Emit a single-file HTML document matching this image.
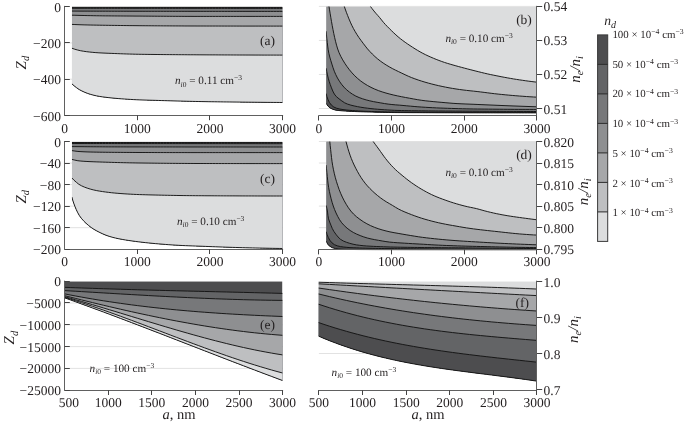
<!DOCTYPE html>
<html><head><meta charset="utf-8"><title>Figure</title>
<style>
html,body{margin:0;padding:0;background:#fff;}
svg{display:block;}
svg text{text-rendering:geometricPrecision;font-family:"Liberation Serif","Times New Roman",serif;fill:#231f20;}
</style></head><body>
<svg width="685" height="424" viewBox="0 0 685 424">
<rect width="685" height="424" fill="#fff"/>
<line x1="64.6" y1="42.96666666666667" x2="282.6" y2="42.96666666666667" stroke="#dadada" stroke-width="0.8"/>
<line x1="64.6" y1="79.23333333333333" x2="282.6" y2="79.23333333333333" stroke="#dadada" stroke-width="0.8"/>
<line x1="318.9" y1="6.409999999999897" x2="537.0" y2="6.409999999999897" stroke="#dadada" stroke-width="0.8"/>
<line x1="318.9" y1="40.43999999999994" x2="537.0" y2="40.43999999999994" stroke="#dadada" stroke-width="0.8"/>
<line x1="318.9" y1="74.46999999999997" x2="537.0" y2="74.46999999999997" stroke="#dadada" stroke-width="0.8"/>
<line x1="318.9" y1="108.5" x2="537.0" y2="108.5" stroke="#dadada" stroke-width="0.8"/>
<line x1="64.6" y1="163.04" x2="282.6" y2="163.04" stroke="#dadada" stroke-width="0.8"/>
<line x1="64.6" y1="184.57999999999998" x2="282.6" y2="184.57999999999998" stroke="#dadada" stroke-width="0.8"/>
<line x1="64.6" y1="206.12" x2="282.6" y2="206.12" stroke="#dadada" stroke-width="0.8"/>
<line x1="64.6" y1="227.66" x2="282.6" y2="227.66" stroke="#dadada" stroke-width="0.8"/>
<line x1="318.9" y1="141.5" x2="537.0" y2="141.5" stroke="#dadada" stroke-width="0.8"/>
<line x1="318.9" y1="163.04000000000002" x2="537.0" y2="163.04000000000002" stroke="#dadada" stroke-width="0.8"/>
<line x1="318.9" y1="184.57999999999956" x2="537.0" y2="184.57999999999956" stroke="#dadada" stroke-width="0.8"/>
<line x1="318.9" y1="206.11999999999955" x2="537.0" y2="206.11999999999955" stroke="#dadada" stroke-width="0.8"/>
<line x1="318.9" y1="227.65999999999957" x2="537.0" y2="227.65999999999957" stroke="#dadada" stroke-width="0.8"/>
<line x1="64.6" y1="303.0" x2="282.6" y2="303.0" stroke="#dadada" stroke-width="0.8"/>
<line x1="64.6" y1="324.8" x2="282.6" y2="324.8" stroke="#dadada" stroke-width="0.8"/>
<line x1="64.6" y1="346.6" x2="282.6" y2="346.6" stroke="#dadada" stroke-width="0.8"/>
<line x1="64.6" y1="368.4" x2="282.6" y2="368.4" stroke="#dadada" stroke-width="0.8"/>
<line x1="318.9" y1="317.5" x2="537.0" y2="317.5" stroke="#dadada" stroke-width="0.8"/>
<line x1="318.9" y1="353.5" x2="537.0" y2="353.5" stroke="#dadada" stroke-width="0.8"/>
<clipPath id="c1"><path d="M71.87,6.40 L282.60,6.40 L282.60,102.50 L279.50,102.48 L276.39,102.45 L273.29,102.43 L270.19,102.40 L267.08,102.38 L263.98,102.35 L260.88,102.32 L257.77,102.29 L254.67,102.26 L251.57,102.23 L248.46,102.19 L245.36,102.16 L242.26,102.13 L239.15,102.09 L236.05,102.06 L232.95,102.02 L229.84,101.98 L226.74,101.95 L223.64,101.91 L220.53,101.87 L217.43,101.82 L214.33,101.78 L211.23,101.74 L208.12,101.69 L205.02,101.64 L201.92,101.59 L198.81,101.53 L195.71,101.48 L192.61,101.41 L189.51,101.34 L186.40,101.26 L183.30,101.18 L180.20,101.09 L177.10,101.01 L173.99,100.91 L170.89,100.82 L167.79,100.73 L164.69,100.64 L161.59,100.55 L158.48,100.46 L155.38,100.37 L152.28,100.29 L149.18,100.21 L146.07,100.11 L142.97,100.01 L139.87,99.89 L136.77,99.76 L133.67,99.60 L130.57,99.43 L127.47,99.24 L124.38,99.02 L121.28,98.80 L118.19,98.56 L115.09,98.29 L112.00,98.00 L108.91,97.67 L105.82,97.31 L102.75,96.91 L99.69,96.45 L96.63,95.89 L93.60,95.19 L90.60,94.38 L87.66,93.43 L84.75,92.29 L81.92,90.99 L79.20,89.54 L76.63,87.77 L74.19,85.87 L71.87,83.80Z"/></clipPath>
<clipPath id="c1r"><rect x="71.86666666666666" y="6.4" width="210.73333333333335" height="109.6"/></clipPath>
<g clip-path="url(#c1r)">
<g clip-path="url(#c1)">
<rect x="71.86666666666666" y="6.4" width="210.73333333333335" height="109.0" fill="#4d4d4f"/>
<path d="M71.87,7.30 L71.87,7.30 L74.92,7.30 L77.97,7.30 L81.03,7.30 L84.08,7.31 L87.14,7.31 L90.19,7.31 L93.25,7.31 L96.30,7.31 L99.35,7.31 L102.41,7.31 L105.46,7.32 L108.52,7.32 L111.57,7.32 L114.62,7.32 L117.68,7.32 L120.73,7.32 L123.79,7.32 L126.84,7.33 L129.89,7.33 L132.95,7.33 L136.00,7.33 L139.06,7.33 L142.11,7.33 L145.17,7.33 L148.22,7.34 L151.27,7.34 L154.33,7.34 L157.38,7.34 L160.44,7.34 L163.49,7.34 L166.54,7.34 L169.60,7.35 L172.65,7.35 L175.71,7.35 L178.76,7.35 L181.81,7.35 L184.87,7.35 L187.92,7.36 L190.98,7.36 L194.03,7.36 L197.09,7.36 L200.14,7.36 L203.19,7.36 L206.25,7.36 L209.30,7.37 L212.36,7.37 L215.41,7.37 L218.46,7.37 L221.52,7.37 L224.57,7.37 L227.63,7.37 L230.68,7.38 L233.73,7.38 L236.79,7.38 L239.84,7.38 L242.90,7.38 L245.95,7.38 L249.00,7.38 L252.06,7.39 L255.11,7.39 L258.17,7.39 L261.22,7.39 L264.28,7.39 L267.33,7.39 L270.38,7.39 L273.44,7.40 L276.49,7.40 L279.55,7.40 L282.60,7.40 L282.60,120.40 L71.87,120.40Z" fill="#636466"/>
<path d="M71.87,8.30 L71.87,8.30 L74.92,8.30 L77.97,8.30 L81.03,8.30 L84.08,8.31 L87.14,8.31 L90.19,8.31 L93.25,8.31 L96.30,8.31 L99.35,8.31 L102.41,8.31 L105.46,8.32 L108.52,8.32 L111.57,8.32 L114.62,8.32 L117.68,8.32 L120.73,8.32 L123.79,8.32 L126.84,8.33 L129.89,8.33 L132.95,8.33 L136.00,8.33 L139.06,8.33 L142.11,8.33 L145.17,8.33 L148.22,8.34 L151.27,8.34 L154.33,8.34 L157.38,8.34 L160.44,8.34 L163.49,8.34 L166.54,8.34 L169.60,8.35 L172.65,8.35 L175.71,8.35 L178.76,8.35 L181.81,8.35 L184.87,8.35 L187.92,8.36 L190.98,8.36 L194.03,8.36 L197.09,8.36 L200.14,8.36 L203.19,8.36 L206.25,8.36 L209.30,8.37 L212.36,8.37 L215.41,8.37 L218.46,8.37 L221.52,8.37 L224.57,8.37 L227.63,8.37 L230.68,8.38 L233.73,8.38 L236.79,8.38 L239.84,8.38 L242.90,8.38 L245.95,8.38 L249.00,8.38 L252.06,8.39 L255.11,8.39 L258.17,8.39 L261.22,8.39 L264.28,8.39 L267.33,8.39 L270.38,8.39 L273.44,8.40 L276.49,8.40 L279.55,8.40 L282.60,8.40 L282.60,120.40 L71.87,120.40Z" fill="#77787a"/>
<path d="M71.87,11.10 L71.87,11.10 L74.92,11.11 L77.97,11.12 L81.03,11.13 L84.08,11.14 L87.14,11.15 L90.19,11.16 L93.25,11.17 L96.30,11.18 L99.35,11.19 L102.41,11.20 L105.46,11.20 L108.52,11.21 L111.57,11.22 L114.62,11.23 L117.68,11.24 L120.73,11.24 L123.79,11.25 L126.84,11.26 L129.89,11.27 L132.95,11.27 L136.00,11.28 L139.06,11.28 L142.11,11.29 L145.17,11.29 L148.22,11.30 L151.27,11.30 L154.33,11.31 L157.38,11.31 L160.44,11.31 L163.49,11.32 L166.54,11.32 L169.60,11.32 L172.65,11.33 L175.71,11.33 L178.76,11.33 L181.81,11.34 L184.87,11.34 L187.92,11.34 L190.98,11.35 L194.03,11.35 L197.08,11.35 L200.14,11.36 L203.19,11.36 L206.25,11.36 L209.30,11.36 L212.36,11.37 L215.41,11.37 L218.46,11.37 L221.52,11.37 L224.57,11.38 L227.63,11.38 L230.68,11.38 L233.73,11.38 L236.79,11.39 L239.84,11.39 L242.90,11.39 L245.95,11.39 L249.00,11.39 L252.06,11.39 L255.11,11.39 L258.17,11.40 L261.22,11.40 L264.28,11.40 L267.33,11.40 L270.38,11.40 L273.44,11.40 L276.49,11.40 L279.55,11.40 L282.60,11.40 L282.60,120.40 L71.87,120.40Z" fill="#8e8f91"/>
<path d="M71.87,15.20 L71.87,15.20 L74.92,15.28 L77.97,15.36 L81.03,15.44 L84.08,15.51 L87.13,15.58 L90.19,15.64 L93.24,15.70 L96.29,15.75 L99.35,15.79 L102.40,15.83 L105.46,15.86 L108.51,15.89 L111.56,15.91 L114.62,15.94 L117.67,15.96 L120.73,15.98 L123.78,16.00 L126.84,16.02 L129.89,16.04 L132.94,16.06 L136.00,16.08 L139.05,16.09 L142.11,16.11 L145.16,16.13 L148.21,16.15 L151.27,16.18 L154.32,16.20 L157.38,16.22 L160.43,16.24 L163.49,16.26 L166.54,16.28 L169.59,16.30 L172.65,16.32 L175.70,16.34 L178.76,16.35 L181.81,16.37 L184.86,16.38 L187.92,16.39 L190.97,16.39 L194.03,16.40 L197.08,16.40 L200.14,16.40 L203.19,16.40 L206.24,16.40 L209.30,16.40 L212.35,16.40 L215.41,16.40 L218.46,16.40 L221.52,16.40 L224.57,16.40 L227.62,16.40 L230.68,16.40 L233.73,16.40 L236.79,16.40 L239.84,16.40 L242.89,16.40 L245.95,16.40 L249.00,16.40 L252.06,16.40 L255.11,16.40 L258.17,16.40 L261.22,16.40 L264.27,16.40 L267.33,16.40 L270.38,16.40 L273.44,16.40 L276.49,16.40 L279.55,16.40 L282.60,16.40 L282.60,120.40 L71.87,120.40Z" fill="#a6a7a9"/>
<path d="M71.87,24.40 L71.87,24.40 L74.92,24.54 L77.97,24.66 L81.02,24.78 L84.07,24.87 L87.13,24.95 L90.18,25.02 L93.24,25.08 L96.29,25.14 L99.34,25.19 L102.40,25.24 L105.45,25.29 L108.51,25.33 L111.56,25.38 L114.61,25.42 L117.67,25.46 L120.72,25.50 L123.78,25.54 L126.83,25.57 L129.88,25.61 L132.94,25.64 L135.99,25.67 L139.05,25.69 L142.10,25.72 L145.16,25.74 L148.21,25.76 L151.26,25.78 L154.32,25.80 L157.37,25.82 L160.43,25.84 L163.48,25.86 L166.54,25.88 L169.59,25.90 L172.64,25.91 L175.70,25.93 L178.75,25.94 L181.81,25.95 L184.86,25.97 L187.92,25.98 L190.97,25.99 L194.02,25.99 L197.08,26.00 L200.13,26.01 L203.19,26.01 L206.24,26.02 L209.30,26.02 L212.35,26.03 L215.40,26.03 L218.46,26.04 L221.51,26.04 L224.57,26.05 L227.62,26.05 L230.68,26.06 L233.73,26.06 L236.78,26.07 L239.84,26.07 L242.89,26.08 L245.95,26.08 L249.00,26.08 L252.06,26.08 L255.11,26.09 L258.17,26.09 L261.22,26.09 L264.27,26.09 L267.33,26.10 L270.38,26.10 L273.44,26.10 L276.49,26.10 L279.55,26.10 L282.60,26.10 L282.60,120.40 L71.87,120.40Z" fill="#bebfc1"/>
<path d="M71.87,48.20 L71.87,48.20 L74.76,49.22 L77.70,50.06 L80.68,50.74 L83.70,51.27 L86.73,51.69 L89.77,52.05 L92.82,52.36 L95.87,52.62 L98.93,52.82 L101.98,52.99 L105.04,53.14 L108.10,53.27 L111.16,53.39 L114.22,53.51 L117.28,53.62 L120.34,53.74 L123.40,53.85 L126.46,53.96 L129.52,54.06 L132.58,54.14 L135.64,54.22 L138.70,54.28 L141.76,54.33 L144.82,54.37 L147.89,54.41 L150.95,54.44 L154.01,54.48 L157.07,54.51 L160.13,54.54 L163.19,54.57 L166.25,54.60 L169.32,54.62 L172.38,54.65 L175.44,54.67 L178.50,54.69 L181.56,54.71 L184.63,54.73 L187.69,54.75 L190.75,54.77 L193.81,54.78 L196.87,54.80 L199.93,54.82 L203.00,54.83 L206.06,54.85 L209.12,54.86 L212.18,54.88 L215.24,54.89 L218.30,54.91 L221.37,54.92 L224.43,54.94 L227.49,54.95 L230.55,54.96 L233.61,54.98 L236.67,54.99 L239.74,55.00 L242.80,55.01 L245.86,55.02 L248.92,55.03 L251.98,55.04 L255.04,55.05 L258.11,55.06 L261.17,55.07 L264.23,55.08 L267.29,55.08 L270.35,55.09 L273.41,55.09 L276.48,55.10 L279.54,55.10 L282.60,55.10 L282.60,120.40 L71.87,120.40Z" fill="#dcddde"/>
</g>
<path d="M71.87,7.30 L74.92,7.30 L77.97,7.30 L81.03,7.30 L84.08,7.31 L87.14,7.31 L90.19,7.31 L93.25,7.31 L96.30,7.31 L99.35,7.31 L102.41,7.31 L105.46,7.32 L108.52,7.32 L111.57,7.32 L114.62,7.32 L117.68,7.32 L120.73,7.32 L123.79,7.32 L126.84,7.33 L129.89,7.33 L132.95,7.33 L136.00,7.33 L139.06,7.33 L142.11,7.33 L145.17,7.33 L148.22,7.34 L151.27,7.34 L154.33,7.34 L157.38,7.34 L160.44,7.34 L163.49,7.34 L166.54,7.34 L169.60,7.35 L172.65,7.35 L175.71,7.35 L178.76,7.35 L181.81,7.35 L184.87,7.35 L187.92,7.36 L190.98,7.36 L194.03,7.36 L197.09,7.36 L200.14,7.36 L203.19,7.36 L206.25,7.36 L209.30,7.37 L212.36,7.37 L215.41,7.37 L218.46,7.37 L221.52,7.37 L224.57,7.37 L227.63,7.37 L230.68,7.38 L233.73,7.38 L236.79,7.38 L239.84,7.38 L242.90,7.38 L245.95,7.38 L249.00,7.38 L252.06,7.39 L255.11,7.39 L258.17,7.39 L261.22,7.39 L264.28,7.39 L267.33,7.39 L270.38,7.39 L273.44,7.40 L276.49,7.40 L279.55,7.40 L282.60,7.40" fill="none" stroke="#141414" stroke-width="0.95"/>
<path d="M71.87,8.30 L74.92,8.30 L77.97,8.30 L81.03,8.30 L84.08,8.31 L87.14,8.31 L90.19,8.31 L93.25,8.31 L96.30,8.31 L99.35,8.31 L102.41,8.31 L105.46,8.32 L108.52,8.32 L111.57,8.32 L114.62,8.32 L117.68,8.32 L120.73,8.32 L123.79,8.32 L126.84,8.33 L129.89,8.33 L132.95,8.33 L136.00,8.33 L139.06,8.33 L142.11,8.33 L145.17,8.33 L148.22,8.34 L151.27,8.34 L154.33,8.34 L157.38,8.34 L160.44,8.34 L163.49,8.34 L166.54,8.34 L169.60,8.35 L172.65,8.35 L175.71,8.35 L178.76,8.35 L181.81,8.35 L184.87,8.35 L187.92,8.36 L190.98,8.36 L194.03,8.36 L197.09,8.36 L200.14,8.36 L203.19,8.36 L206.25,8.36 L209.30,8.37 L212.36,8.37 L215.41,8.37 L218.46,8.37 L221.52,8.37 L224.57,8.37 L227.63,8.37 L230.68,8.38 L233.73,8.38 L236.79,8.38 L239.84,8.38 L242.90,8.38 L245.95,8.38 L249.00,8.38 L252.06,8.39 L255.11,8.39 L258.17,8.39 L261.22,8.39 L264.28,8.39 L267.33,8.39 L270.38,8.39 L273.44,8.40 L276.49,8.40 L279.55,8.40 L282.60,8.40" fill="none" stroke="#141414" stroke-width="0.95"/>
<path d="M71.87,11.10 L74.92,11.11 L77.97,11.12 L81.03,11.13 L84.08,11.14 L87.14,11.15 L90.19,11.16 L93.25,11.17 L96.30,11.18 L99.35,11.19 L102.41,11.20 L105.46,11.20 L108.52,11.21 L111.57,11.22 L114.62,11.23 L117.68,11.24 L120.73,11.24 L123.79,11.25 L126.84,11.26 L129.89,11.27 L132.95,11.27 L136.00,11.28 L139.06,11.28 L142.11,11.29 L145.17,11.29 L148.22,11.30 L151.27,11.30 L154.33,11.31 L157.38,11.31 L160.44,11.31 L163.49,11.32 L166.54,11.32 L169.60,11.32 L172.65,11.33 L175.71,11.33 L178.76,11.33 L181.81,11.34 L184.87,11.34 L187.92,11.34 L190.98,11.35 L194.03,11.35 L197.08,11.35 L200.14,11.36 L203.19,11.36 L206.25,11.36 L209.30,11.36 L212.36,11.37 L215.41,11.37 L218.46,11.37 L221.52,11.37 L224.57,11.38 L227.63,11.38 L230.68,11.38 L233.73,11.38 L236.79,11.39 L239.84,11.39 L242.90,11.39 L245.95,11.39 L249.00,11.39 L252.06,11.39 L255.11,11.39 L258.17,11.40 L261.22,11.40 L264.28,11.40 L267.33,11.40 L270.38,11.40 L273.44,11.40 L276.49,11.40 L279.55,11.40 L282.60,11.40" fill="none" stroke="#141414" stroke-width="0.95"/>
<path d="M71.87,15.20 L74.92,15.28 L77.97,15.36 L81.03,15.44 L84.08,15.51 L87.13,15.58 L90.19,15.64 L93.24,15.70 L96.29,15.75 L99.35,15.79 L102.40,15.83 L105.46,15.86 L108.51,15.89 L111.56,15.91 L114.62,15.94 L117.67,15.96 L120.73,15.98 L123.78,16.00 L126.84,16.02 L129.89,16.04 L132.94,16.06 L136.00,16.08 L139.05,16.09 L142.11,16.11 L145.16,16.13 L148.21,16.15 L151.27,16.18 L154.32,16.20 L157.38,16.22 L160.43,16.24 L163.49,16.26 L166.54,16.28 L169.59,16.30 L172.65,16.32 L175.70,16.34 L178.76,16.35 L181.81,16.37 L184.86,16.38 L187.92,16.39 L190.97,16.39 L194.03,16.40 L197.08,16.40 L200.14,16.40 L203.19,16.40 L206.24,16.40 L209.30,16.40 L212.35,16.40 L215.41,16.40 L218.46,16.40 L221.52,16.40 L224.57,16.40 L227.62,16.40 L230.68,16.40 L233.73,16.40 L236.79,16.40 L239.84,16.40 L242.89,16.40 L245.95,16.40 L249.00,16.40 L252.06,16.40 L255.11,16.40 L258.17,16.40 L261.22,16.40 L264.27,16.40 L267.33,16.40 L270.38,16.40 L273.44,16.40 L276.49,16.40 L279.55,16.40 L282.60,16.40" fill="none" stroke="#141414" stroke-width="0.95"/>
<path d="M71.87,24.40 L74.92,24.54 L77.97,24.66 L81.02,24.78 L84.07,24.87 L87.13,24.95 L90.18,25.02 L93.24,25.08 L96.29,25.14 L99.34,25.19 L102.40,25.24 L105.45,25.29 L108.51,25.33 L111.56,25.38 L114.61,25.42 L117.67,25.46 L120.72,25.50 L123.78,25.54 L126.83,25.57 L129.88,25.61 L132.94,25.64 L135.99,25.67 L139.05,25.69 L142.10,25.72 L145.16,25.74 L148.21,25.76 L151.26,25.78 L154.32,25.80 L157.37,25.82 L160.43,25.84 L163.48,25.86 L166.54,25.88 L169.59,25.90 L172.64,25.91 L175.70,25.93 L178.75,25.94 L181.81,25.95 L184.86,25.97 L187.92,25.98 L190.97,25.99 L194.02,25.99 L197.08,26.00 L200.13,26.01 L203.19,26.01 L206.24,26.02 L209.30,26.02 L212.35,26.03 L215.40,26.03 L218.46,26.04 L221.51,26.04 L224.57,26.05 L227.62,26.05 L230.68,26.06 L233.73,26.06 L236.78,26.07 L239.84,26.07 L242.89,26.08 L245.95,26.08 L249.00,26.08 L252.06,26.08 L255.11,26.09 L258.17,26.09 L261.22,26.09 L264.27,26.09 L267.33,26.10 L270.38,26.10 L273.44,26.10 L276.49,26.10 L279.55,26.10 L282.60,26.10" fill="none" stroke="#141414" stroke-width="0.95"/>
<path d="M71.87,48.20 L74.76,49.22 L77.70,50.06 L80.68,50.74 L83.70,51.27 L86.73,51.69 L89.77,52.05 L92.82,52.36 L95.87,52.62 L98.93,52.82 L101.98,52.99 L105.04,53.14 L108.10,53.27 L111.16,53.39 L114.22,53.51 L117.28,53.62 L120.34,53.74 L123.40,53.85 L126.46,53.96 L129.52,54.06 L132.58,54.14 L135.64,54.22 L138.70,54.28 L141.76,54.33 L144.82,54.37 L147.89,54.41 L150.95,54.44 L154.01,54.48 L157.07,54.51 L160.13,54.54 L163.19,54.57 L166.25,54.60 L169.32,54.62 L172.38,54.65 L175.44,54.67 L178.50,54.69 L181.56,54.71 L184.63,54.73 L187.69,54.75 L190.75,54.77 L193.81,54.78 L196.87,54.80 L199.93,54.82 L203.00,54.83 L206.06,54.85 L209.12,54.86 L212.18,54.88 L215.24,54.89 L218.30,54.91 L221.37,54.92 L224.43,54.94 L227.49,54.95 L230.55,54.96 L233.61,54.98 L236.67,54.99 L239.74,55.00 L242.80,55.01 L245.86,55.02 L248.92,55.03 L251.98,55.04 L255.04,55.05 L258.11,55.06 L261.17,55.07 L264.23,55.08 L267.29,55.08 L270.35,55.09 L273.41,55.09 L276.48,55.10 L279.54,55.10 L282.60,55.10" fill="none" stroke="#141414" stroke-width="0.95"/>
<path d="M71.87,83.80 L74.19,85.87 L76.63,87.77 L79.20,89.54 L81.92,90.99 L84.75,92.29 L87.66,93.43 L90.60,94.38 L93.60,95.19 L96.63,95.89 L99.69,96.45 L102.75,96.91 L105.82,97.31 L108.91,97.67 L112.00,98.00 L115.09,98.29 L118.19,98.56 L121.28,98.80 L124.38,99.02 L127.47,99.24 L130.57,99.43 L133.67,99.60 L136.77,99.76 L139.87,99.89 L142.97,100.01 L146.07,100.11 L149.18,100.21 L152.28,100.29 L155.38,100.37 L158.48,100.46 L161.59,100.55 L164.69,100.64 L167.79,100.73 L170.89,100.82 L173.99,100.91 L177.10,101.01 L180.20,101.09 L183.30,101.18 L186.40,101.26 L189.51,101.34 L192.61,101.41 L195.71,101.48 L198.81,101.53 L201.92,101.59 L205.02,101.64 L208.12,101.69 L211.23,101.74 L214.33,101.78 L217.43,101.82 L220.53,101.87 L223.64,101.91 L226.74,101.95 L229.84,101.98 L232.95,102.02 L236.05,102.06 L239.15,102.09 L242.26,102.13 L245.36,102.16 L248.46,102.19 L251.57,102.23 L254.67,102.26 L257.77,102.29 L260.88,102.32 L263.98,102.35 L267.08,102.38 L270.19,102.40 L273.29,102.43 L276.39,102.45 L279.50,102.48 L282.60,102.50" fill="none" stroke="#141414" stroke-width="0.95"/>
</g>
<clipPath id="c2"><path d="M71.87,141.50 L282.60,141.50 L282.60,248.50 L279.25,248.45 L275.90,248.40 L272.55,248.34 L269.20,248.28 L265.85,248.21 L262.50,248.14 L259.15,248.07 L255.80,247.99 L252.46,247.91 L249.11,247.83 L245.76,247.75 L242.41,247.66 L239.06,247.57 L235.71,247.48 L232.36,247.38 L229.02,247.27 L225.67,247.16 L222.32,247.04 L218.97,246.92 L215.62,246.79 L212.28,246.67 L208.93,246.54 L205.58,246.41 L202.23,246.28 L198.89,246.16 L195.54,246.04 L192.19,245.91 L188.84,245.79 L185.50,245.65 L182.15,245.51 L178.80,245.34 L175.46,245.14 L172.12,244.93 L168.78,244.69 L165.43,244.44 L162.09,244.17 L158.76,243.90 L155.42,243.61 L152.08,243.30 L148.75,242.97 L145.42,242.62 L142.09,242.25 L138.76,241.85 L135.44,241.43 L132.11,240.98 L128.80,240.49 L125.48,239.97 L122.19,239.40 L118.90,238.79 L115.62,238.08 L112.36,237.27 L109.16,236.34 L105.99,235.22 L102.88,233.93 L99.85,232.53 L96.86,230.99 L93.93,229.30 L91.14,227.44 L88.52,225.43 L85.97,223.21 L83.54,220.81 L81.33,218.27 L79.41,215.61 L77.73,212.70 L76.28,209.65 L75.00,206.58 L73.81,203.45 L72.76,200.26 L71.87,197.00Z"/></clipPath>
<clipPath id="c2r"><rect x="71.86666666666666" y="141.5" width="210.73333333333335" height="108.29999999999998"/></clipPath>
<g clip-path="url(#c2r)">
<g clip-path="url(#c2)">
<rect x="71.86666666666666" y="141.5" width="210.73333333333335" height="107.69999999999999" fill="#4d4d4f"/>
<path d="M71.87,142.50 L71.87,142.50 L74.92,142.50 L77.97,142.50 L81.03,142.50 L84.08,142.51 L87.14,142.51 L90.19,142.51 L93.25,142.51 L96.30,142.51 L99.35,142.51 L102.41,142.51 L105.46,142.52 L108.52,142.52 L111.57,142.52 L114.62,142.52 L117.68,142.52 L120.73,142.52 L123.79,142.52 L126.84,142.53 L129.89,142.53 L132.95,142.53 L136.00,142.53 L139.06,142.53 L142.11,142.53 L145.17,142.53 L148.22,142.54 L151.27,142.54 L154.33,142.54 L157.38,142.54 L160.44,142.54 L163.49,142.54 L166.54,142.54 L169.60,142.55 L172.65,142.55 L175.71,142.55 L178.76,142.55 L181.81,142.55 L184.87,142.55 L187.92,142.56 L190.98,142.56 L194.03,142.56 L197.09,142.56 L200.14,142.56 L203.19,142.56 L206.25,142.56 L209.30,142.57 L212.36,142.57 L215.41,142.57 L218.46,142.57 L221.52,142.57 L224.57,142.57 L227.63,142.57 L230.68,142.58 L233.73,142.58 L236.79,142.58 L239.84,142.58 L242.90,142.58 L245.95,142.58 L249.00,142.58 L252.06,142.59 L255.11,142.59 L258.17,142.59 L261.22,142.59 L264.28,142.59 L267.33,142.59 L270.38,142.59 L273.44,142.60 L276.49,142.60 L279.55,142.60 L282.60,142.60 L282.60,254.20 L71.87,254.20Z" fill="#636466"/>
<path d="M71.87,143.50 L71.87,143.50 L74.92,143.50 L77.97,143.51 L81.03,143.51 L84.08,143.51 L87.14,143.51 L90.19,143.52 L93.25,143.52 L96.30,143.52 L99.35,143.53 L102.41,143.53 L105.46,143.53 L108.52,143.53 L111.57,143.54 L114.62,143.54 L117.68,143.54 L120.73,143.55 L123.79,143.55 L126.84,143.55 L129.89,143.56 L132.95,143.56 L136.00,143.56 L139.06,143.56 L142.11,143.57 L145.17,143.57 L148.22,143.57 L151.27,143.58 L154.33,143.58 L157.38,143.58 L160.44,143.58 L163.49,143.59 L166.54,143.59 L169.60,143.59 L172.65,143.60 L175.71,143.60 L178.76,143.60 L181.81,143.60 L184.87,143.61 L187.92,143.61 L190.98,143.61 L194.03,143.62 L197.09,143.62 L200.14,143.62 L203.19,143.62 L206.25,143.63 L209.30,143.63 L212.36,143.63 L215.41,143.64 L218.46,143.64 L221.52,143.64 L224.57,143.64 L227.63,143.65 L230.68,143.65 L233.73,143.65 L236.79,143.66 L239.84,143.66 L242.90,143.66 L245.95,143.67 L249.00,143.67 L252.06,143.67 L255.11,143.67 L258.17,143.68 L261.22,143.68 L264.28,143.68 L267.33,143.69 L270.38,143.69 L273.44,143.69 L276.49,143.69 L279.55,143.70 L282.60,143.70 L282.60,254.20 L71.87,254.20Z" fill="#77787a"/>
<path d="M71.87,146.60 L71.87,146.60 L74.92,146.62 L77.97,146.65 L81.03,146.67 L84.08,146.70 L87.14,146.72 L90.19,146.74 L93.25,146.77 L96.30,146.79 L99.35,146.81 L102.41,146.83 L105.46,146.85 L108.52,146.86 L111.57,146.88 L114.62,146.89 L117.68,146.90 L120.73,146.90 L123.79,146.90 L126.84,146.91 L129.89,146.91 L132.95,146.92 L136.00,146.92 L139.06,146.92 L142.11,146.93 L145.16,146.93 L148.22,146.93 L151.27,146.94 L154.33,146.94 L157.38,146.94 L160.43,146.95 L163.49,146.95 L166.54,146.95 L169.60,146.95 L172.65,146.96 L175.71,146.96 L178.76,146.96 L181.81,146.96 L184.87,146.97 L187.92,146.97 L190.98,146.97 L194.03,146.97 L197.08,146.97 L200.14,146.98 L203.19,146.98 L206.25,146.98 L209.30,146.98 L212.35,146.98 L215.41,146.98 L218.46,146.99 L221.52,146.99 L224.57,146.99 L227.63,146.99 L230.68,146.99 L233.73,146.99 L236.79,146.99 L239.84,146.99 L242.90,146.99 L245.95,147.00 L249.00,147.00 L252.06,147.00 L255.11,147.00 L258.17,147.00 L261.22,147.00 L264.28,147.00 L267.33,147.00 L270.38,147.00 L273.44,147.00 L276.49,147.00 L279.55,147.00 L282.60,147.00 L282.60,254.20 L71.87,254.20Z" fill="#8e8f91"/>
<path d="M71.87,150.60 L71.87,150.60 L74.89,151.05 L77.93,151.44 L80.97,151.65 L84.01,151.79 L87.07,151.91 L90.12,152.00 L93.18,152.08 L96.24,152.14 L99.29,152.19 L102.35,152.23 L105.40,152.27 L108.46,152.30 L111.51,152.33 L114.57,152.36 L117.62,152.38 L120.68,152.40 L123.73,152.43 L126.79,152.44 L129.84,152.46 L132.90,152.47 L135.95,152.49 L139.01,152.50 L142.06,152.51 L145.12,152.51 L148.17,152.52 L151.23,152.53 L154.28,152.54 L157.34,152.55 L160.39,152.55 L163.45,152.56 L166.50,152.57 L169.56,152.57 L172.61,152.58 L175.67,152.58 L178.73,152.59 L181.78,152.59 L184.84,152.59 L187.89,152.60 L190.95,152.60 L194.00,152.60 L197.06,152.60 L200.11,152.60 L203.17,152.60 L206.22,152.60 L209.28,152.60 L212.33,152.60 L215.39,152.60 L218.44,152.60 L221.50,152.60 L224.55,152.60 L227.61,152.60 L230.66,152.60 L233.72,152.60 L236.77,152.60 L239.83,152.60 L242.88,152.60 L245.94,152.60 L248.99,152.60 L252.05,152.60 L255.10,152.60 L258.16,152.60 L261.21,152.60 L264.27,152.60 L267.32,152.60 L270.38,152.60 L273.43,152.60 L276.49,152.60 L279.54,152.60 L282.60,152.60 L282.60,254.20 L71.87,254.20Z" fill="#a6a7a9"/>
<path d="M71.87,159.40 L71.87,159.40 L74.85,160.12 L77.85,160.72 L80.87,161.07 L83.91,161.30 L86.96,161.48 L90.01,161.63 L93.08,161.76 L96.14,161.87 L99.20,161.97 L102.25,162.08 L105.31,162.18 L108.36,162.28 L111.42,162.37 L114.47,162.46 L117.53,162.54 L120.59,162.62 L123.64,162.70 L126.70,162.76 L129.76,162.83 L132.81,162.89 L135.87,162.94 L138.93,162.99 L141.98,163.03 L145.04,163.07 L148.10,163.10 L151.15,163.14 L154.21,163.18 L157.27,163.21 L160.32,163.25 L163.38,163.28 L166.44,163.31 L169.49,163.34 L172.55,163.37 L175.61,163.39 L178.66,163.41 L181.72,163.43 L184.78,163.45 L187.83,163.47 L190.89,163.48 L193.95,163.49 L197.01,163.50 L200.06,163.51 L203.12,163.51 L206.18,163.52 L209.23,163.53 L212.29,163.53 L215.35,163.54 L218.40,163.54 L221.46,163.55 L224.52,163.55 L227.57,163.56 L230.63,163.56 L233.69,163.57 L236.75,163.57 L239.80,163.57 L242.86,163.58 L245.92,163.58 L248.97,163.58 L252.03,163.59 L255.09,163.59 L258.14,163.59 L261.20,163.59 L264.26,163.59 L267.32,163.60 L270.37,163.60 L273.43,163.60 L276.49,163.60 L279.54,163.60 L282.60,163.60 L282.60,254.20 L71.87,254.20Z" fill="#bebfc1"/>
<path d="M71.87,178.00 L71.87,178.00 L74.04,180.24 L76.36,182.30 L78.81,184.25 L81.47,185.77 L84.31,187.05 L87.26,188.15 L90.23,189.07 L93.23,189.85 L96.28,190.53 L99.34,191.09 L102.41,191.56 L105.48,191.99 L108.57,192.39 L111.66,192.74 L114.76,193.06 L117.86,193.33 L120.96,193.57 L124.06,193.79 L127.16,193.99 L130.27,194.17 L133.37,194.34 L136.48,194.47 L139.59,194.59 L142.69,194.68 L145.80,194.77 L148.91,194.86 L152.02,194.95 L155.12,195.03 L158.23,195.10 L161.34,195.17 L164.45,195.24 L167.56,195.31 L170.67,195.37 L173.78,195.42 L176.89,195.48 L180.00,195.52 L183.11,195.57 L186.22,195.60 L189.32,195.64 L192.43,195.67 L195.54,195.69 L198.65,195.71 L201.76,195.73 L204.87,195.75 L207.98,195.77 L211.09,195.78 L214.20,195.80 L217.31,195.82 L220.41,195.83 L223.52,195.85 L226.63,195.86 L229.74,195.88 L232.85,195.89 L235.96,195.90 L239.07,195.91 L242.18,195.93 L245.29,195.94 L248.40,195.95 L251.51,195.95 L254.62,195.96 L257.72,195.97 L260.83,195.98 L263.94,195.98 L267.05,195.99 L270.16,195.99 L273.27,196.00 L276.38,196.00 L279.49,196.00 L282.60,196.00 L282.60,254.20 L71.87,254.20Z" fill="#dcddde"/>
</g>
<path d="M71.87,142.50 L74.92,142.50 L77.97,142.50 L81.03,142.50 L84.08,142.51 L87.14,142.51 L90.19,142.51 L93.25,142.51 L96.30,142.51 L99.35,142.51 L102.41,142.51 L105.46,142.52 L108.52,142.52 L111.57,142.52 L114.62,142.52 L117.68,142.52 L120.73,142.52 L123.79,142.52 L126.84,142.53 L129.89,142.53 L132.95,142.53 L136.00,142.53 L139.06,142.53 L142.11,142.53 L145.17,142.53 L148.22,142.54 L151.27,142.54 L154.33,142.54 L157.38,142.54 L160.44,142.54 L163.49,142.54 L166.54,142.54 L169.60,142.55 L172.65,142.55 L175.71,142.55 L178.76,142.55 L181.81,142.55 L184.87,142.55 L187.92,142.56 L190.98,142.56 L194.03,142.56 L197.09,142.56 L200.14,142.56 L203.19,142.56 L206.25,142.56 L209.30,142.57 L212.36,142.57 L215.41,142.57 L218.46,142.57 L221.52,142.57 L224.57,142.57 L227.63,142.57 L230.68,142.58 L233.73,142.58 L236.79,142.58 L239.84,142.58 L242.90,142.58 L245.95,142.58 L249.00,142.58 L252.06,142.59 L255.11,142.59 L258.17,142.59 L261.22,142.59 L264.28,142.59 L267.33,142.59 L270.38,142.59 L273.44,142.60 L276.49,142.60 L279.55,142.60 L282.60,142.60" fill="none" stroke="#141414" stroke-width="0.95"/>
<path d="M71.87,143.50 L74.92,143.50 L77.97,143.51 L81.03,143.51 L84.08,143.51 L87.14,143.51 L90.19,143.52 L93.25,143.52 L96.30,143.52 L99.35,143.53 L102.41,143.53 L105.46,143.53 L108.52,143.53 L111.57,143.54 L114.62,143.54 L117.68,143.54 L120.73,143.55 L123.79,143.55 L126.84,143.55 L129.89,143.56 L132.95,143.56 L136.00,143.56 L139.06,143.56 L142.11,143.57 L145.17,143.57 L148.22,143.57 L151.27,143.58 L154.33,143.58 L157.38,143.58 L160.44,143.58 L163.49,143.59 L166.54,143.59 L169.60,143.59 L172.65,143.60 L175.71,143.60 L178.76,143.60 L181.81,143.60 L184.87,143.61 L187.92,143.61 L190.98,143.61 L194.03,143.62 L197.09,143.62 L200.14,143.62 L203.19,143.62 L206.25,143.63 L209.30,143.63 L212.36,143.63 L215.41,143.64 L218.46,143.64 L221.52,143.64 L224.57,143.64 L227.63,143.65 L230.68,143.65 L233.73,143.65 L236.79,143.66 L239.84,143.66 L242.90,143.66 L245.95,143.67 L249.00,143.67 L252.06,143.67 L255.11,143.67 L258.17,143.68 L261.22,143.68 L264.28,143.68 L267.33,143.69 L270.38,143.69 L273.44,143.69 L276.49,143.69 L279.55,143.70 L282.60,143.70" fill="none" stroke="#141414" stroke-width="0.95"/>
<path d="M71.87,146.60 L74.92,146.62 L77.97,146.65 L81.03,146.67 L84.08,146.70 L87.14,146.72 L90.19,146.74 L93.25,146.77 L96.30,146.79 L99.35,146.81 L102.41,146.83 L105.46,146.85 L108.52,146.86 L111.57,146.88 L114.62,146.89 L117.68,146.90 L120.73,146.90 L123.79,146.90 L126.84,146.91 L129.89,146.91 L132.95,146.92 L136.00,146.92 L139.06,146.92 L142.11,146.93 L145.16,146.93 L148.22,146.93 L151.27,146.94 L154.33,146.94 L157.38,146.94 L160.43,146.95 L163.49,146.95 L166.54,146.95 L169.60,146.95 L172.65,146.96 L175.71,146.96 L178.76,146.96 L181.81,146.96 L184.87,146.97 L187.92,146.97 L190.98,146.97 L194.03,146.97 L197.08,146.97 L200.14,146.98 L203.19,146.98 L206.25,146.98 L209.30,146.98 L212.35,146.98 L215.41,146.98 L218.46,146.99 L221.52,146.99 L224.57,146.99 L227.63,146.99 L230.68,146.99 L233.73,146.99 L236.79,146.99 L239.84,146.99 L242.90,146.99 L245.95,147.00 L249.00,147.00 L252.06,147.00 L255.11,147.00 L258.17,147.00 L261.22,147.00 L264.28,147.00 L267.33,147.00 L270.38,147.00 L273.44,147.00 L276.49,147.00 L279.55,147.00 L282.60,147.00" fill="none" stroke="#141414" stroke-width="0.95"/>
<path d="M71.87,150.60 L74.89,151.05 L77.93,151.44 L80.97,151.65 L84.01,151.79 L87.07,151.91 L90.12,152.00 L93.18,152.08 L96.24,152.14 L99.29,152.19 L102.35,152.23 L105.40,152.27 L108.46,152.30 L111.51,152.33 L114.57,152.36 L117.62,152.38 L120.68,152.40 L123.73,152.43 L126.79,152.44 L129.84,152.46 L132.90,152.47 L135.95,152.49 L139.01,152.50 L142.06,152.51 L145.12,152.51 L148.17,152.52 L151.23,152.53 L154.28,152.54 L157.34,152.55 L160.39,152.55 L163.45,152.56 L166.50,152.57 L169.56,152.57 L172.61,152.58 L175.67,152.58 L178.73,152.59 L181.78,152.59 L184.84,152.59 L187.89,152.60 L190.95,152.60 L194.00,152.60 L197.06,152.60 L200.11,152.60 L203.17,152.60 L206.22,152.60 L209.28,152.60 L212.33,152.60 L215.39,152.60 L218.44,152.60 L221.50,152.60 L224.55,152.60 L227.61,152.60 L230.66,152.60 L233.72,152.60 L236.77,152.60 L239.83,152.60 L242.88,152.60 L245.94,152.60 L248.99,152.60 L252.05,152.60 L255.10,152.60 L258.16,152.60 L261.21,152.60 L264.27,152.60 L267.32,152.60 L270.38,152.60 L273.43,152.60 L276.49,152.60 L279.54,152.60 L282.60,152.60" fill="none" stroke="#141414" stroke-width="0.95"/>
<path d="M71.87,159.40 L74.85,160.12 L77.85,160.72 L80.87,161.07 L83.91,161.30 L86.96,161.48 L90.01,161.63 L93.08,161.76 L96.14,161.87 L99.20,161.97 L102.25,162.08 L105.31,162.18 L108.36,162.28 L111.42,162.37 L114.47,162.46 L117.53,162.54 L120.59,162.62 L123.64,162.70 L126.70,162.76 L129.76,162.83 L132.81,162.89 L135.87,162.94 L138.93,162.99 L141.98,163.03 L145.04,163.07 L148.10,163.10 L151.15,163.14 L154.21,163.18 L157.27,163.21 L160.32,163.25 L163.38,163.28 L166.44,163.31 L169.49,163.34 L172.55,163.37 L175.61,163.39 L178.66,163.41 L181.72,163.43 L184.78,163.45 L187.83,163.47 L190.89,163.48 L193.95,163.49 L197.01,163.50 L200.06,163.51 L203.12,163.51 L206.18,163.52 L209.23,163.53 L212.29,163.53 L215.35,163.54 L218.40,163.54 L221.46,163.55 L224.52,163.55 L227.57,163.56 L230.63,163.56 L233.69,163.57 L236.75,163.57 L239.80,163.57 L242.86,163.58 L245.92,163.58 L248.97,163.58 L252.03,163.59 L255.09,163.59 L258.14,163.59 L261.20,163.59 L264.26,163.59 L267.32,163.60 L270.37,163.60 L273.43,163.60 L276.49,163.60 L279.54,163.60 L282.60,163.60" fill="none" stroke="#141414" stroke-width="0.95"/>
<path d="M71.87,178.00 L74.04,180.24 L76.36,182.30 L78.81,184.25 L81.47,185.77 L84.31,187.05 L87.26,188.15 L90.23,189.07 L93.23,189.85 L96.28,190.53 L99.34,191.09 L102.41,191.56 L105.48,191.99 L108.57,192.39 L111.66,192.74 L114.76,193.06 L117.86,193.33 L120.96,193.57 L124.06,193.79 L127.16,193.99 L130.27,194.17 L133.37,194.34 L136.48,194.47 L139.59,194.59 L142.69,194.68 L145.80,194.77 L148.91,194.86 L152.02,194.95 L155.12,195.03 L158.23,195.10 L161.34,195.17 L164.45,195.24 L167.56,195.31 L170.67,195.37 L173.78,195.42 L176.89,195.48 L180.00,195.52 L183.11,195.57 L186.22,195.60 L189.32,195.64 L192.43,195.67 L195.54,195.69 L198.65,195.71 L201.76,195.73 L204.87,195.75 L207.98,195.77 L211.09,195.78 L214.20,195.80 L217.31,195.82 L220.41,195.83 L223.52,195.85 L226.63,195.86 L229.74,195.88 L232.85,195.89 L235.96,195.90 L239.07,195.91 L242.18,195.93 L245.29,195.94 L248.40,195.95 L251.51,195.95 L254.62,195.96 L257.72,195.97 L260.83,195.98 L263.94,195.98 L267.05,195.99 L270.16,195.99 L273.27,196.00 L276.38,196.00 L279.49,196.00 L282.60,196.00" fill="none" stroke="#141414" stroke-width="0.95"/>
<path d="M71.87,197.00 L72.76,200.26 L73.81,203.45 L75.00,206.58 L76.28,209.65 L77.73,212.70 L79.41,215.61 L81.33,218.27 L83.54,220.81 L85.97,223.21 L88.52,225.43 L91.14,227.44 L93.93,229.30 L96.86,230.99 L99.85,232.53 L102.88,233.93 L105.99,235.22 L109.16,236.34 L112.36,237.27 L115.62,238.08 L118.90,238.79 L122.19,239.40 L125.48,239.97 L128.80,240.49 L132.11,240.98 L135.44,241.43 L138.76,241.85 L142.09,242.25 L145.42,242.62 L148.75,242.97 L152.08,243.30 L155.42,243.61 L158.76,243.90 L162.09,244.17 L165.43,244.44 L168.78,244.69 L172.12,244.93 L175.46,245.14 L178.80,245.34 L182.15,245.51 L185.50,245.65 L188.84,245.79 L192.19,245.91 L195.54,246.04 L198.89,246.16 L202.23,246.28 L205.58,246.41 L208.93,246.54 L212.28,246.67 L215.62,246.79 L218.97,246.92 L222.32,247.04 L225.67,247.16 L229.02,247.27 L232.36,247.38 L235.71,247.48 L239.06,247.57 L242.41,247.66 L245.76,247.75 L249.11,247.83 L252.46,247.91 L255.80,247.99 L259.15,248.07 L262.50,248.14 L265.85,248.21 L269.20,248.28 L272.55,248.34 L275.90,248.40 L279.25,248.45 L282.60,248.50" fill="none" stroke="#141414" stroke-width="0.95"/>
</g>
<clipPath id="c3"><path d="M64.60,281.20 L282.60,281.20 L282.60,380.54 L277.01,378.46 L271.42,376.37 L265.83,374.27 L260.24,372.16 L254.65,370.04 L249.06,367.92 L243.47,365.78 L237.88,363.64 L232.29,361.50 L226.70,359.35 L221.11,357.19 L215.52,355.03 L209.93,352.87 L204.34,350.70 L198.75,348.53 L193.16,346.37 L187.57,344.20 L181.98,342.03 L176.39,339.86 L170.81,337.70 L165.22,335.53 L159.63,333.37 L154.04,331.22 L148.45,329.07 L142.86,326.92 L137.27,324.78 L131.68,322.65 L126.09,320.53 L120.50,318.41 L114.91,316.30 L109.32,314.20 L103.73,312.11 L98.14,310.04 L92.55,307.97 L86.96,305.92 L81.37,303.88 L75.78,301.85 L70.19,299.84 L64.60,297.84Z"/></clipPath>
<clipPath id="c3r"><rect x="64.6" y="281.2" width="218.00000000000003" height="109.6"/></clipPath>
<g clip-path="url(#c3r)">
<g clip-path="url(#c3)">
<rect x="64.6" y="281.2" width="218.00000000000003" height="109.0" fill="#4d4d4f"/>
<path d="M64.60,287.33 L64.60,287.33 L70.19,287.55 L75.78,287.76 L81.37,287.97 L86.96,288.17 L92.55,288.37 L98.14,288.56 L103.73,288.74 L109.32,288.92 L114.91,289.09 L120.50,289.26 L126.09,289.43 L131.68,289.59 L137.27,289.75 L142.86,289.91 L148.45,290.06 L154.04,290.21 L159.63,290.35 L165.22,290.50 L170.81,290.64 L176.39,290.78 L181.98,290.92 L187.57,291.05 L193.16,291.19 L198.75,291.32 L204.34,291.46 L209.93,291.59 L215.52,291.73 L221.11,291.86 L226.70,291.99 L232.29,292.13 L237.88,292.26 L243.47,292.40 L249.06,292.54 L254.65,292.68 L260.24,292.82 L265.83,292.97 L271.42,293.11 L277.01,293.26 L282.60,293.42 L282.60,395.20 L64.60,395.20Z" fill="#636466"/>
<path d="M64.60,290.59 L64.60,290.59 L70.19,290.93 L75.78,291.26 L81.37,291.59 L86.96,291.93 L92.55,292.27 L98.14,292.60 L103.73,292.94 L109.32,293.27 L114.91,293.61 L120.50,293.94 L126.09,294.27 L131.68,294.59 L137.27,294.92 L142.86,295.23 L148.45,295.55 L154.04,295.86 L159.63,296.16 L165.22,296.46 L170.81,296.75 L176.39,297.03 L181.98,297.31 L187.57,297.57 L193.16,297.83 L198.75,298.08 L204.34,298.32 L209.93,298.55 L215.52,298.77 L221.11,298.98 L226.70,299.17 L232.29,299.36 L237.88,299.53 L243.47,299.69 L249.06,299.83 L254.65,299.96 L260.24,300.08 L265.83,300.18 L271.42,300.27 L277.01,300.33 L282.60,300.39 L282.60,395.20 L64.60,395.20Z" fill="#77787a"/>
<path d="M64.60,293.87 L64.60,293.87 L70.19,294.97 L75.78,296.03 L81.37,297.06 L86.96,298.05 L92.55,299.01 L98.14,299.94 L103.73,300.84 L109.32,301.70 L114.91,302.54 L120.50,303.34 L126.09,304.12 L131.68,304.86 L137.27,305.58 L142.86,306.27 L148.45,306.93 L154.04,307.57 L159.63,308.18 L165.22,308.77 L170.81,309.33 L176.39,309.87 L181.98,310.38 L187.57,310.87 L193.16,311.35 L198.75,311.80 L204.34,312.23 L209.93,312.64 L215.52,313.03 L221.11,313.41 L226.70,313.76 L232.29,314.10 L237.88,314.42 L243.47,314.73 L249.06,315.02 L254.65,315.30 L260.24,315.57 L265.83,315.82 L271.42,316.06 L277.01,316.29 L282.60,316.51 L282.60,395.20 L64.60,395.20Z" fill="#8e8f91"/>
<path d="M64.60,295.66 L64.60,295.66 L70.19,297.07 L75.78,298.48 L81.37,299.86 L86.96,301.24 L92.55,302.61 L98.14,303.96 L103.73,305.30 L109.32,306.62 L114.91,307.92 L120.50,309.21 L126.09,310.48 L131.68,311.73 L137.27,312.97 L142.86,314.18 L148.45,315.37 L154.04,316.54 L159.63,317.68 L165.22,318.80 L170.81,319.90 L176.39,320.97 L181.98,322.01 L187.57,323.03 L193.16,324.02 L198.75,324.98 L204.34,325.91 L209.93,326.81 L215.52,327.68 L221.11,328.51 L226.70,329.32 L232.29,330.08 L237.88,330.82 L243.47,331.51 L249.06,332.18 L254.65,332.80 L260.24,333.38 L265.83,333.93 L271.42,334.43 L277.01,334.90 L282.60,335.32 L282.60,395.20 L64.60,395.20Z" fill="#a6a7a9"/>
<path d="M64.60,296.65 L64.60,296.65 L70.19,298.21 L75.78,299.80 L81.37,301.41 L86.96,303.04 L92.55,304.68 L98.14,306.34 L103.73,308.02 L109.32,309.71 L114.91,311.40 L120.50,313.10 L126.09,314.81 L131.68,316.51 L137.27,318.22 L142.86,319.92 L148.45,321.62 L154.04,323.31 L159.63,324.99 L165.22,326.66 L170.81,328.32 L176.39,329.96 L181.98,331.58 L187.57,333.18 L193.16,334.75 L198.75,336.30 L204.34,337.82 L209.93,339.32 L215.52,340.77 L221.11,342.20 L226.70,343.58 L232.29,344.93 L237.88,346.24 L243.47,347.50 L249.06,348.71 L254.65,349.88 L260.24,351.00 L265.83,352.06 L271.42,353.07 L277.01,354.02 L282.60,354.91 L282.60,395.20 L64.60,395.20Z" fill="#bebfc1"/>
<path d="M64.60,297.31 L64.60,297.31 L70.19,299.03 L75.78,300.79 L81.37,302.59 L86.96,304.44 L92.55,306.33 L98.14,308.25 L103.73,310.20 L109.32,312.19 L114.91,314.20 L120.50,316.23 L126.09,318.29 L131.68,320.37 L137.27,322.46 L142.86,324.56 L148.45,326.68 L154.04,328.80 L159.63,330.92 L165.22,333.05 L170.81,335.18 L176.39,337.30 L181.98,339.41 L187.57,341.52 L193.16,343.61 L198.75,345.68 L204.34,347.74 L209.93,349.78 L215.52,351.79 L221.11,353.77 L226.70,355.73 L232.29,357.65 L237.88,359.54 L243.47,361.38 L249.06,363.19 L254.65,364.95 L260.24,366.67 L265.83,368.33 L271.42,369.94 L277.01,371.50 L282.60,373.00 L282.60,395.20 L64.60,395.20Z" fill="#dcddde"/>
</g>
<path d="M64.60,287.33 L70.19,287.55 L75.78,287.76 L81.37,287.97 L86.96,288.17 L92.55,288.37 L98.14,288.56 L103.73,288.74 L109.32,288.92 L114.91,289.09 L120.50,289.26 L126.09,289.43 L131.68,289.59 L137.27,289.75 L142.86,289.91 L148.45,290.06 L154.04,290.21 L159.63,290.35 L165.22,290.50 L170.81,290.64 L176.39,290.78 L181.98,290.92 L187.57,291.05 L193.16,291.19 L198.75,291.32 L204.34,291.46 L209.93,291.59 L215.52,291.73 L221.11,291.86 L226.70,291.99 L232.29,292.13 L237.88,292.26 L243.47,292.40 L249.06,292.54 L254.65,292.68 L260.24,292.82 L265.83,292.97 L271.42,293.11 L277.01,293.26 L282.60,293.42" fill="none" stroke="#141414" stroke-width="0.95"/>
<path d="M64.60,290.59 L70.19,290.93 L75.78,291.26 L81.37,291.59 L86.96,291.93 L92.55,292.27 L98.14,292.60 L103.73,292.94 L109.32,293.27 L114.91,293.61 L120.50,293.94 L126.09,294.27 L131.68,294.59 L137.27,294.92 L142.86,295.23 L148.45,295.55 L154.04,295.86 L159.63,296.16 L165.22,296.46 L170.81,296.75 L176.39,297.03 L181.98,297.31 L187.57,297.57 L193.16,297.83 L198.75,298.08 L204.34,298.32 L209.93,298.55 L215.52,298.77 L221.11,298.98 L226.70,299.17 L232.29,299.36 L237.88,299.53 L243.47,299.69 L249.06,299.83 L254.65,299.96 L260.24,300.08 L265.83,300.18 L271.42,300.27 L277.01,300.33 L282.60,300.39" fill="none" stroke="#141414" stroke-width="0.95"/>
<path d="M64.60,293.87 L70.19,294.97 L75.78,296.03 L81.37,297.06 L86.96,298.05 L92.55,299.01 L98.14,299.94 L103.73,300.84 L109.32,301.70 L114.91,302.54 L120.50,303.34 L126.09,304.12 L131.68,304.86 L137.27,305.58 L142.86,306.27 L148.45,306.93 L154.04,307.57 L159.63,308.18 L165.22,308.77 L170.81,309.33 L176.39,309.87 L181.98,310.38 L187.57,310.87 L193.16,311.35 L198.75,311.80 L204.34,312.23 L209.93,312.64 L215.52,313.03 L221.11,313.41 L226.70,313.76 L232.29,314.10 L237.88,314.42 L243.47,314.73 L249.06,315.02 L254.65,315.30 L260.24,315.57 L265.83,315.82 L271.42,316.06 L277.01,316.29 L282.60,316.51" fill="none" stroke="#141414" stroke-width="0.95"/>
<path d="M64.60,295.66 L70.19,297.07 L75.78,298.48 L81.37,299.86 L86.96,301.24 L92.55,302.61 L98.14,303.96 L103.73,305.30 L109.32,306.62 L114.91,307.92 L120.50,309.21 L126.09,310.48 L131.68,311.73 L137.27,312.97 L142.86,314.18 L148.45,315.37 L154.04,316.54 L159.63,317.68 L165.22,318.80 L170.81,319.90 L176.39,320.97 L181.98,322.01 L187.57,323.03 L193.16,324.02 L198.75,324.98 L204.34,325.91 L209.93,326.81 L215.52,327.68 L221.11,328.51 L226.70,329.32 L232.29,330.08 L237.88,330.82 L243.47,331.51 L249.06,332.18 L254.65,332.80 L260.24,333.38 L265.83,333.93 L271.42,334.43 L277.01,334.90 L282.60,335.32" fill="none" stroke="#141414" stroke-width="0.95"/>
<path d="M64.60,296.65 L70.19,298.21 L75.78,299.80 L81.37,301.41 L86.96,303.04 L92.55,304.68 L98.14,306.34 L103.73,308.02 L109.32,309.71 L114.91,311.40 L120.50,313.10 L126.09,314.81 L131.68,316.51 L137.27,318.22 L142.86,319.92 L148.45,321.62 L154.04,323.31 L159.63,324.99 L165.22,326.66 L170.81,328.32 L176.39,329.96 L181.98,331.58 L187.57,333.18 L193.16,334.75 L198.75,336.30 L204.34,337.82 L209.93,339.32 L215.52,340.77 L221.11,342.20 L226.70,343.58 L232.29,344.93 L237.88,346.24 L243.47,347.50 L249.06,348.71 L254.65,349.88 L260.24,351.00 L265.83,352.06 L271.42,353.07 L277.01,354.02 L282.60,354.91" fill="none" stroke="#141414" stroke-width="0.95"/>
<path d="M64.60,297.31 L70.19,299.03 L75.78,300.79 L81.37,302.59 L86.96,304.44 L92.55,306.33 L98.14,308.25 L103.73,310.20 L109.32,312.19 L114.91,314.20 L120.50,316.23 L126.09,318.29 L131.68,320.37 L137.27,322.46 L142.86,324.56 L148.45,326.68 L154.04,328.80 L159.63,330.92 L165.22,333.05 L170.81,335.18 L176.39,337.30 L181.98,339.41 L187.57,341.52 L193.16,343.61 L198.75,345.68 L204.34,347.74 L209.93,349.78 L215.52,351.79 L221.11,353.77 L226.70,355.73 L232.29,357.65 L237.88,359.54 L243.47,361.38 L249.06,363.19 L254.65,364.95 L260.24,366.67 L265.83,368.33 L271.42,369.94 L277.01,371.50 L282.60,373.00" fill="none" stroke="#141414" stroke-width="0.95"/>
<path d="M64.60,297.84 L70.19,299.84 L75.78,301.85 L81.37,303.88 L86.96,305.92 L92.55,307.97 L98.14,310.04 L103.73,312.11 L109.32,314.20 L114.91,316.30 L120.50,318.41 L126.09,320.53 L131.68,322.65 L137.27,324.78 L142.86,326.92 L148.45,329.07 L154.04,331.22 L159.63,333.37 L165.22,335.53 L170.81,337.70 L176.39,339.86 L181.98,342.03 L187.57,344.20 L193.16,346.37 L198.75,348.53 L204.34,350.70 L209.93,352.87 L215.52,355.03 L221.11,357.19 L226.70,359.35 L232.29,361.50 L237.88,363.64 L243.47,365.78 L249.06,367.92 L254.65,370.04 L260.24,372.16 L265.83,374.27 L271.42,376.37 L277.01,378.46 L282.60,380.54" fill="none" stroke="#141414" stroke-width="0.95"/>
</g>
<clipPath id="c4"><path d="M326.17,6.40 L537.00,6.40 L537.00,112.90 L533.90,112.90 L530.81,112.90 L527.71,112.90 L524.62,112.90 L521.52,112.90 L518.43,112.90 L515.33,112.89 L512.24,112.89 L509.14,112.89 L506.05,112.89 L502.95,112.88 L499.86,112.88 L496.76,112.88 L493.67,112.87 L490.57,112.87 L487.48,112.86 L484.38,112.86 L481.29,112.85 L478.19,112.85 L475.10,112.84 L472.00,112.84 L468.91,112.83 L465.81,112.82 L462.72,112.82 L459.62,112.81 L456.53,112.80 L453.44,112.79 L450.34,112.79 L447.25,112.78 L444.15,112.77 L441.06,112.76 L437.96,112.75 L434.87,112.74 L431.77,112.73 L428.68,112.72 L425.58,112.71 L422.49,112.70 L419.39,112.68 L416.30,112.67 L413.20,112.66 L410.11,112.65 L407.02,112.63 L403.92,112.62 L400.83,112.60 L397.73,112.59 L394.64,112.56 L391.54,112.52 L388.45,112.47 L385.35,112.41 L382.26,112.34 L379.16,112.27 L376.07,112.20 L372.98,112.12 L369.88,112.04 L366.79,111.96 L363.70,111.87 L360.60,111.77 L357.51,111.65 L354.41,111.52 L351.32,111.38 L348.23,111.22 L345.14,111.04 L342.04,110.82 L338.94,110.53 L335.89,110.13 L332.90,109.36 L330.12,107.98 L327.82,105.97 L326.17,103.30Z"/></clipPath>
<clipPath id="c4r"><rect x="326.16999999999996" y="6.4" width="210.83000000000004" height="109.89999999999999"/></clipPath>
<g clip-path="url(#c4r)">
<g clip-path="url(#c4)">
<rect x="326.16999999999996" y="6.4" width="210.83000000000004" height="109.3" fill="#dcddde"/>
<path d="M326.17,-6.00 L362.00,-6.00 L363.58,-3.49 L365.20,-1.01 L366.86,1.44 L368.56,3.86 L370.29,6.25 L372.07,8.62 L373.90,10.95 L375.79,13.22 L377.77,15.43 L379.71,17.66 L381.55,19.98 L383.40,22.29 L385.38,24.49 L387.42,26.63 L389.51,28.73 L391.62,30.80 L393.76,32.86 L395.93,34.88 L398.14,36.85 L400.41,38.73 L402.75,40.53 L405.15,42.27 L407.59,43.96 L410.05,45.61 L412.53,47.23 L415.02,48.82 L417.55,50.37 L420.11,51.86 L422.71,53.27 L425.34,54.60 L428.02,55.88 L430.72,57.09 L433.44,58.26 L436.18,59.38 L438.94,60.45 L441.72,61.48 L444.52,62.44 L447.33,63.34 L450.17,64.18 L453.02,65.00 L455.87,65.80 L458.72,66.60 L461.58,67.37 L464.44,68.13 L467.30,68.88 L470.16,69.62 L473.03,70.35 L475.90,71.08 L478.77,71.79 L481.65,72.51 L484.52,73.21 L487.40,73.87 L490.30,74.50 L493.19,75.10 L496.10,75.68 L499.00,76.26 L501.90,76.83 L504.81,77.38 L507.72,77.92 L510.64,78.43 L513.55,78.93 L516.48,79.40 L519.40,79.85 L522.33,80.28 L525.26,80.70 L528.19,81.10 L531.12,81.48 L534.06,81.85 L537.00,82.20 L537.00,120.70 L326.17,120.70Z" fill="#bebfc1"/>
<path d="M326.17,-8.00 L340.00,-8.00 L340.93,-4.58 L341.92,-1.18 L342.95,2.20 L344.03,5.57 L345.16,8.93 L346.37,12.25 L347.64,15.56 L348.95,18.86 L350.33,22.12 L351.81,25.33 L353.42,28.48 L355.15,31.57 L356.99,34.60 L358.93,37.55 L361.01,40.42 L363.14,43.25 L365.28,46.09 L367.49,48.86 L369.83,51.49 L372.30,54.04 L374.87,56.50 L377.55,58.83 L380.30,61.01 L383.18,63.06 L386.17,64.99 L389.22,66.81 L392.30,68.53 L395.46,70.13 L398.66,71.66 L401.85,73.19 L405.05,74.73 L408.27,76.21 L411.53,77.57 L414.83,78.82 L418.18,80.00 L421.55,81.10 L424.93,82.13 L428.34,83.10 L431.76,84.01 L435.19,84.86 L438.64,85.67 L442.10,86.43 L445.57,87.13 L449.04,87.80 L452.53,88.42 L456.02,88.98 L459.53,89.49 L463.04,89.96 L466.55,90.39 L470.07,90.78 L473.59,91.14 L477.11,91.53 L480.62,91.95 L484.13,92.39 L487.65,92.84 L491.16,93.29 L494.67,93.71 L498.19,94.10 L501.71,94.46 L505.23,94.80 L508.76,95.13 L512.28,95.44 L515.81,95.74 L519.34,96.02 L522.87,96.28 L526.40,96.54 L529.93,96.77 L533.47,96.99 L537.00,97.20 L537.00,120.70 L326.17,120.70Z" fill="#a6a7a9"/>
<path d="M326.17,-6.00 L327.20,-6.00 L327.75,-2.04 L328.32,1.92 L328.92,5.88 L329.54,9.83 L330.19,13.77 L330.85,17.72 L331.52,21.66 L332.23,25.60 L332.97,29.53 L333.75,33.46 L334.60,37.37 L335.53,41.26 L336.54,45.15 L337.69,48.99 L339.07,52.69 L340.76,56.33 L342.71,59.88 L344.81,63.31 L347.02,66.59 L349.43,69.80 L352.03,72.90 L354.80,75.84 L357.69,78.54 L360.78,81.05 L364.08,83.38 L367.50,85.49 L371.00,87.37 L374.64,89.07 L378.36,90.58 L382.12,91.89 L385.96,93.06 L389.83,94.10 L393.71,95.05 L397.62,95.91 L401.54,96.71 L405.47,97.47 L409.40,98.19 L413.34,98.91 L417.28,99.63 L421.22,100.26 L425.19,100.77 L429.17,101.19 L433.15,101.59 L437.13,101.96 L441.12,102.32 L445.10,102.66 L449.09,103.01 L453.07,103.34 L457.06,103.59 L461.06,103.79 L465.05,103.96 L469.05,104.12 L473.05,104.28 L477.05,104.45 L481.04,104.62 L485.04,104.79 L489.04,104.96 L493.03,105.13 L497.03,105.30 L501.02,105.47 L505.02,105.63 L509.02,105.79 L513.02,105.94 L517.01,106.09 L521.01,106.24 L525.01,106.39 L529.00,106.53 L533.00,106.66 L537.00,106.80 L537.00,120.70 L326.17,120.70Z" fill="#8e8f91"/>
<path d="M326.17,31.20 L326.17,31.20 L326.48,34.91 L326.84,38.62 L327.25,42.32 L327.68,46.03 L328.19,49.72 L328.87,53.37 L329.76,56.99 L330.80,60.58 L331.91,64.14 L333.04,67.70 L334.29,71.22 L335.75,74.62 L337.45,77.96 L339.37,81.18 L341.49,84.21 L343.90,87.08 L346.53,89.71 L349.41,92.09 L352.48,94.20 L355.72,96.06 L359.11,97.55 L362.62,98.82 L366.21,99.92 L369.81,100.84 L373.45,101.61 L377.12,102.29 L380.79,102.92 L384.47,103.55 L388.16,104.10 L391.85,104.53 L395.56,104.85 L399.28,105.14 L402.99,105.46 L406.70,105.80 L410.41,106.15 L414.12,106.48 L417.84,106.79 L421.55,107.06 L425.27,107.29 L428.99,107.50 L432.71,107.70 L436.43,107.88 L440.15,108.04 L443.87,108.18 L447.60,108.31 L451.32,108.43 L455.04,108.54 L458.77,108.65 L462.49,108.75 L466.22,108.84 L469.94,108.91 L473.67,108.97 L477.39,109.02 L481.12,109.06 L484.84,109.09 L488.57,109.13 L492.29,109.17 L496.02,109.20 L499.74,109.23 L503.47,109.26 L507.19,109.29 L510.92,109.31 L514.64,109.34 L518.37,109.35 L522.10,109.37 L525.82,109.38 L529.55,109.39 L533.27,109.40 L537.00,109.40 L537.00,120.70 L326.17,120.70Z" fill="#77787a"/>
<path d="M326.17,68.20 L326.17,68.20 L326.74,71.55 L327.44,74.87 L328.24,78.16 L329.18,81.42 L330.27,84.64 L331.47,87.83 L332.78,91.05 L334.33,94.05 L336.33,96.60 L338.99,98.81 L341.74,100.85 L344.58,102.79 L347.60,104.13 L350.83,105.14 L354.17,105.95 L357.51,106.64 L360.84,107.24 L364.20,107.75 L367.57,108.20 L370.93,108.60 L374.30,108.95 L377.68,109.26 L381.06,109.51 L384.44,109.75 L387.83,109.97 L391.22,110.17 L394.60,110.33 L397.99,110.45 L401.38,110.52 L404.77,110.58 L408.16,110.64 L411.54,110.69 L414.93,110.73 L418.32,110.77 L421.71,110.81 L425.10,110.85 L428.49,110.88 L431.89,110.91 L435.28,110.94 L438.67,110.97 L442.06,110.99 L445.45,111.02 L448.84,111.04 L452.23,111.06 L455.62,111.08 L459.02,111.10 L462.41,111.12 L465.80,111.14 L469.19,111.16 L472.58,111.18 L475.97,111.20 L479.36,111.22 L482.75,111.24 L486.14,111.26 L489.53,111.28 L492.92,111.30 L496.31,111.32 L499.70,111.34 L503.09,111.36 L506.48,111.38 L509.88,111.39 L513.27,111.41 L516.66,111.42 L520.05,111.44 L523.44,111.45 L526.83,111.47 L530.22,111.48 L533.61,111.49 L537.00,111.50 L537.00,120.70 L326.17,120.70Z" fill="#636466"/>
<path d="M326.17,93.50 L326.17,93.50 L326.92,96.66 L328.02,99.62 L329.43,102.46 L331.35,105.04 L333.81,107.04 L336.70,108.28 L339.83,109.06 L342.96,109.57 L346.12,109.98 L349.29,110.30 L352.46,110.56 L355.64,110.78 L358.81,110.97 L361.99,111.14 L365.17,111.28 L368.35,111.40 L371.53,111.50 L374.71,111.60 L377.89,111.70 L381.08,111.79 L384.26,111.87 L387.44,111.94 L390.62,112.00 L393.80,112.05 L396.99,112.08 L400.17,112.10 L403.35,112.11 L406.53,112.12 L409.71,112.13 L412.89,112.14 L416.08,112.15 L419.26,112.16 L422.44,112.17 L425.62,112.18 L428.80,112.18 L431.99,112.19 L435.17,112.20 L438.35,112.20 L441.53,112.21 L444.71,112.22 L447.89,112.22 L451.08,112.23 L454.26,112.24 L457.44,112.24 L460.62,112.25 L463.80,112.25 L466.99,112.26 L470.17,112.26 L473.35,112.26 L476.53,112.27 L479.72,112.27 L482.90,112.27 L486.08,112.28 L489.26,112.28 L492.44,112.28 L495.63,112.29 L498.81,112.29 L501.99,112.29 L505.17,112.29 L508.36,112.29 L511.54,112.29 L514.72,112.30 L517.90,112.30 L521.09,112.30 L524.27,112.30 L527.45,112.30 L530.63,112.30 L533.82,112.30 L537.00,112.30 L537.00,120.70 L326.17,120.70Z" fill="#4d4d4f"/>
</g>
<path d="M362.00,-6.00 L363.58,-3.49 L365.20,-1.01 L366.86,1.44 L368.56,3.86 L370.29,6.25 L372.07,8.62 L373.90,10.95 L375.79,13.22 L377.77,15.43 L379.71,17.66 L381.55,19.98 L383.40,22.29 L385.38,24.49 L387.42,26.63 L389.51,28.73 L391.62,30.80 L393.76,32.86 L395.93,34.88 L398.14,36.85 L400.41,38.73 L402.75,40.53 L405.15,42.27 L407.59,43.96 L410.05,45.61 L412.53,47.23 L415.02,48.82 L417.55,50.37 L420.11,51.86 L422.71,53.27 L425.34,54.60 L428.02,55.88 L430.72,57.09 L433.44,58.26 L436.18,59.38 L438.94,60.45 L441.72,61.48 L444.52,62.44 L447.33,63.34 L450.17,64.18 L453.02,65.00 L455.87,65.80 L458.72,66.60 L461.58,67.37 L464.44,68.13 L467.30,68.88 L470.16,69.62 L473.03,70.35 L475.90,71.08 L478.77,71.79 L481.65,72.51 L484.52,73.21 L487.40,73.87 L490.30,74.50 L493.19,75.10 L496.10,75.68 L499.00,76.26 L501.90,76.83 L504.81,77.38 L507.72,77.92 L510.64,78.43 L513.55,78.93 L516.48,79.40 L519.40,79.85 L522.33,80.28 L525.26,80.70 L528.19,81.10 L531.12,81.48 L534.06,81.85 L537.00,82.20" fill="none" stroke="#141414" stroke-width="0.95"/>
<path d="M340.00,-8.00 L340.93,-4.58 L341.92,-1.18 L342.95,2.20 L344.03,5.57 L345.16,8.93 L346.37,12.25 L347.64,15.56 L348.95,18.86 L350.33,22.12 L351.81,25.33 L353.42,28.48 L355.15,31.57 L356.99,34.60 L358.93,37.55 L361.01,40.42 L363.14,43.25 L365.28,46.09 L367.49,48.86 L369.83,51.49 L372.30,54.04 L374.87,56.50 L377.55,58.83 L380.30,61.01 L383.18,63.06 L386.17,64.99 L389.22,66.81 L392.30,68.53 L395.46,70.13 L398.66,71.66 L401.85,73.19 L405.05,74.73 L408.27,76.21 L411.53,77.57 L414.83,78.82 L418.18,80.00 L421.55,81.10 L424.93,82.13 L428.34,83.10 L431.76,84.01 L435.19,84.86 L438.64,85.67 L442.10,86.43 L445.57,87.13 L449.04,87.80 L452.53,88.42 L456.02,88.98 L459.53,89.49 L463.04,89.96 L466.55,90.39 L470.07,90.78 L473.59,91.14 L477.11,91.53 L480.62,91.95 L484.13,92.39 L487.65,92.84 L491.16,93.29 L494.67,93.71 L498.19,94.10 L501.71,94.46 L505.23,94.80 L508.76,95.13 L512.28,95.44 L515.81,95.74 L519.34,96.02 L522.87,96.28 L526.40,96.54 L529.93,96.77 L533.47,96.99 L537.00,97.20" fill="none" stroke="#141414" stroke-width="0.95"/>
<path d="M327.20,-6.00 L327.75,-2.04 L328.32,1.92 L328.92,5.88 L329.54,9.83 L330.19,13.77 L330.85,17.72 L331.52,21.66 L332.23,25.60 L332.97,29.53 L333.75,33.46 L334.60,37.37 L335.53,41.26 L336.54,45.15 L337.69,48.99 L339.07,52.69 L340.76,56.33 L342.71,59.88 L344.81,63.31 L347.02,66.59 L349.43,69.80 L352.03,72.90 L354.80,75.84 L357.69,78.54 L360.78,81.05 L364.08,83.38 L367.50,85.49 L371.00,87.37 L374.64,89.07 L378.36,90.58 L382.12,91.89 L385.96,93.06 L389.83,94.10 L393.71,95.05 L397.62,95.91 L401.54,96.71 L405.47,97.47 L409.40,98.19 L413.34,98.91 L417.28,99.63 L421.22,100.26 L425.19,100.77 L429.17,101.19 L433.15,101.59 L437.13,101.96 L441.12,102.32 L445.10,102.66 L449.09,103.01 L453.07,103.34 L457.06,103.59 L461.06,103.79 L465.05,103.96 L469.05,104.12 L473.05,104.28 L477.05,104.45 L481.04,104.62 L485.04,104.79 L489.04,104.96 L493.03,105.13 L497.03,105.30 L501.02,105.47 L505.02,105.63 L509.02,105.79 L513.02,105.94 L517.01,106.09 L521.01,106.24 L525.01,106.39 L529.00,106.53 L533.00,106.66 L537.00,106.80" fill="none" stroke="#141414" stroke-width="0.95"/>
<path d="M326.17,31.20 L326.48,34.91 L326.84,38.62 L327.25,42.32 L327.68,46.03 L328.19,49.72 L328.87,53.37 L329.76,56.99 L330.80,60.58 L331.91,64.14 L333.04,67.70 L334.29,71.22 L335.75,74.62 L337.45,77.96 L339.37,81.18 L341.49,84.21 L343.90,87.08 L346.53,89.71 L349.41,92.09 L352.48,94.20 L355.72,96.06 L359.11,97.55 L362.62,98.82 L366.21,99.92 L369.81,100.84 L373.45,101.61 L377.12,102.29 L380.79,102.92 L384.47,103.55 L388.16,104.10 L391.85,104.53 L395.56,104.85 L399.28,105.14 L402.99,105.46 L406.70,105.80 L410.41,106.15 L414.12,106.48 L417.84,106.79 L421.55,107.06 L425.27,107.29 L428.99,107.50 L432.71,107.70 L436.43,107.88 L440.15,108.04 L443.87,108.18 L447.60,108.31 L451.32,108.43 L455.04,108.54 L458.77,108.65 L462.49,108.75 L466.22,108.84 L469.94,108.91 L473.67,108.97 L477.39,109.02 L481.12,109.06 L484.84,109.09 L488.57,109.13 L492.29,109.17 L496.02,109.20 L499.74,109.23 L503.47,109.26 L507.19,109.29 L510.92,109.31 L514.64,109.34 L518.37,109.35 L522.10,109.37 L525.82,109.38 L529.55,109.39 L533.27,109.40 L537.00,109.40" fill="none" stroke="#141414" stroke-width="0.95"/>
<path d="M326.17,68.20 L326.74,71.55 L327.44,74.87 L328.24,78.16 L329.18,81.42 L330.27,84.64 L331.47,87.83 L332.78,91.05 L334.33,94.05 L336.33,96.60 L338.99,98.81 L341.74,100.85 L344.58,102.79 L347.60,104.13 L350.83,105.14 L354.17,105.95 L357.51,106.64 L360.84,107.24 L364.20,107.75 L367.57,108.20 L370.93,108.60 L374.30,108.95 L377.68,109.26 L381.06,109.51 L384.44,109.75 L387.83,109.97 L391.22,110.17 L394.60,110.33 L397.99,110.45 L401.38,110.52 L404.77,110.58 L408.16,110.64 L411.54,110.69 L414.93,110.73 L418.32,110.77 L421.71,110.81 L425.10,110.85 L428.49,110.88 L431.89,110.91 L435.28,110.94 L438.67,110.97 L442.06,110.99 L445.45,111.02 L448.84,111.04 L452.23,111.06 L455.62,111.08 L459.02,111.10 L462.41,111.12 L465.80,111.14 L469.19,111.16 L472.58,111.18 L475.97,111.20 L479.36,111.22 L482.75,111.24 L486.14,111.26 L489.53,111.28 L492.92,111.30 L496.31,111.32 L499.70,111.34 L503.09,111.36 L506.48,111.38 L509.88,111.39 L513.27,111.41 L516.66,111.42 L520.05,111.44 L523.44,111.45 L526.83,111.47 L530.22,111.48 L533.61,111.49 L537.00,111.50" fill="none" stroke="#141414" stroke-width="0.95"/>
<path d="M326.17,93.50 L326.92,96.66 L328.02,99.62 L329.43,102.46 L331.35,105.04 L333.81,107.04 L336.70,108.28 L339.83,109.06 L342.96,109.57 L346.12,109.98 L349.29,110.30 L352.46,110.56 L355.64,110.78 L358.81,110.97 L361.99,111.14 L365.17,111.28 L368.35,111.40 L371.53,111.50 L374.71,111.60 L377.89,111.70 L381.08,111.79 L384.26,111.87 L387.44,111.94 L390.62,112.00 L393.80,112.05 L396.99,112.08 L400.17,112.10 L403.35,112.11 L406.53,112.12 L409.71,112.13 L412.89,112.14 L416.08,112.15 L419.26,112.16 L422.44,112.17 L425.62,112.18 L428.80,112.18 L431.99,112.19 L435.17,112.20 L438.35,112.20 L441.53,112.21 L444.71,112.22 L447.89,112.22 L451.08,112.23 L454.26,112.24 L457.44,112.24 L460.62,112.25 L463.80,112.25 L466.99,112.26 L470.17,112.26 L473.35,112.26 L476.53,112.27 L479.72,112.27 L482.90,112.27 L486.08,112.28 L489.26,112.28 L492.44,112.28 L495.63,112.29 L498.81,112.29 L501.99,112.29 L505.17,112.29 L508.36,112.29 L511.54,112.29 L514.72,112.30 L517.90,112.30 L521.09,112.30 L524.27,112.30 L527.45,112.30 L530.63,112.30 L533.82,112.30 L537.00,112.30" fill="none" stroke="#141414" stroke-width="0.95"/>
<path d="M326.17,103.30 L327.82,105.97 L330.12,107.98 L332.90,109.36 L335.89,110.13 L338.94,110.53 L342.04,110.82 L345.14,111.04 L348.23,111.22 L351.32,111.38 L354.41,111.52 L357.51,111.65 L360.60,111.77 L363.70,111.87 L366.79,111.96 L369.88,112.04 L372.98,112.12 L376.07,112.20 L379.16,112.27 L382.26,112.34 L385.35,112.41 L388.45,112.47 L391.54,112.52 L394.64,112.56 L397.73,112.59 L400.83,112.60 L403.92,112.62 L407.02,112.63 L410.11,112.65 L413.20,112.66 L416.30,112.67 L419.39,112.68 L422.49,112.70 L425.58,112.71 L428.68,112.72 L431.77,112.73 L434.87,112.74 L437.96,112.75 L441.06,112.76 L444.15,112.77 L447.25,112.78 L450.34,112.79 L453.44,112.79 L456.53,112.80 L459.62,112.81 L462.72,112.82 L465.81,112.82 L468.91,112.83 L472.00,112.84 L475.10,112.84 L478.19,112.85 L481.29,112.85 L484.38,112.86 L487.48,112.86 L490.57,112.87 L493.67,112.87 L496.76,112.88 L499.86,112.88 L502.95,112.88 L506.05,112.89 L509.14,112.89 L512.24,112.89 L515.33,112.89 L518.43,112.90 L521.52,112.90 L524.62,112.90 L527.71,112.90 L530.81,112.90 L533.90,112.90 L537.00,112.90" fill="none" stroke="#141414" stroke-width="0.95"/>
</g>
<clipPath id="c5"><path d="M326.17,141.50 L537.00,141.50 L537.00,249.80 L533.90,249.80 L530.79,249.80 L527.69,249.80 L524.59,249.80 L521.49,249.80 L518.38,249.80 L515.28,249.80 L512.18,249.80 L509.07,249.80 L505.97,249.80 L502.87,249.80 L499.76,249.80 L496.66,249.80 L493.56,249.80 L490.46,249.80 L487.35,249.80 L484.25,249.80 L481.15,249.80 L478.04,249.80 L474.94,249.80 L471.84,249.80 L468.74,249.80 L465.63,249.80 L462.53,249.80 L459.43,249.80 L456.32,249.80 L453.22,249.80 L450.12,249.80 L447.02,249.80 L443.91,249.80 L440.81,249.80 L437.71,249.80 L434.60,249.80 L431.50,249.80 L428.40,249.80 L425.30,249.80 L422.19,249.80 L419.09,249.80 L415.99,249.80 L412.88,249.80 L409.78,249.80 L406.68,249.80 L403.58,249.80 L400.47,249.80 L397.37,249.79 L394.27,249.78 L391.16,249.77 L388.06,249.76 L384.95,249.75 L381.85,249.74 L378.74,249.73 L375.64,249.71 L372.53,249.69 L369.43,249.67 L366.33,249.64 L363.22,249.62 L360.12,249.59 L357.02,249.55 L353.92,249.51 L350.82,249.47 L347.72,249.42 L344.62,249.36 L341.51,249.19 L338.40,248.91 L335.34,248.53 L332.34,247.72 L329.64,246.17 L327.58,243.95 L326.17,241.10Z"/></clipPath>
<clipPath id="c5r"><rect x="326.16999999999996" y="141.5" width="210.83000000000004" height="108.9"/></clipPath>
<g clip-path="url(#c5r)">
<g clip-path="url(#c5)">
<rect x="326.16999999999996" y="141.5" width="210.83000000000004" height="108.30000000000001" fill="#dcddde"/>
<path d="M326.17,130.00 L365.00,130.00 L366.69,132.40 L368.39,134.80 L370.10,137.19 L371.82,139.58 L373.54,141.97 L375.27,144.34 L377.02,146.71 L378.76,149.08 L380.47,151.46 L382.16,153.88 L383.86,156.27 L385.63,158.62 L387.46,160.92 L389.35,163.18 L391.30,165.37 L393.33,167.50 L395.43,169.57 L397.59,171.55 L399.83,173.46 L402.09,175.34 L404.36,177.21 L406.66,179.06 L408.99,180.85 L411.36,182.58 L413.77,184.26 L416.21,185.90 L418.70,187.49 L421.21,189.02 L423.75,190.49 L426.32,191.92 L428.93,193.29 L431.57,194.59 L434.23,195.81 L436.94,196.96 L439.67,198.04 L442.43,199.08 L445.19,200.09 L447.96,201.06 L450.75,202.01 L453.55,202.90 L456.36,203.76 L459.19,204.57 L462.03,205.35 L464.88,206.08 L467.73,206.76 L470.61,207.36 L473.50,207.95 L476.36,208.59 L479.21,209.33 L482.04,210.13 L484.87,210.92 L487.72,211.65 L490.58,212.34 L493.44,212.99 L496.32,213.61 L499.20,214.20 L502.09,214.75 L504.98,215.27 L507.88,215.77 L510.78,216.23 L513.69,216.66 L516.60,217.08 L519.51,217.48 L522.43,217.88 L525.34,218.28 L528.25,218.67 L531.17,219.05 L534.08,219.43 L537.00,219.80 L537.00,254.80 L326.17,254.80Z" fill="#bebfc1"/>
<path d="M326.17,128.00 L342.00,128.00 L343.03,131.39 L344.04,134.79 L345.04,138.19 L346.03,141.59 L346.96,145.01 L347.90,148.43 L348.94,151.81 L350.07,155.18 L351.30,158.50 L352.65,161.77 L354.12,164.99 L355.70,168.18 L357.36,171.31 L359.11,174.39 L360.98,177.41 L362.97,180.33 L365.10,183.16 L367.39,185.88 L369.80,188.46 L372.33,190.95 L374.94,193.35 L377.65,195.64 L380.44,197.82 L383.33,199.89 L386.30,201.81 L389.37,203.59 L392.42,205.39 L395.45,207.25 L398.51,209.03 L401.67,210.60 L404.91,212.03 L408.20,213.37 L411.50,214.65 L414.82,215.90 L418.17,217.08 L421.53,218.19 L424.92,219.22 L428.33,220.20 L431.75,221.11 L435.19,221.96 L438.64,222.77 L442.10,223.53 L445.58,224.23 L449.06,224.88 L452.55,225.49 L456.04,226.10 L459.53,226.71 L463.02,227.32 L466.52,227.89 L470.02,228.40 L473.54,228.88 L477.05,229.33 L480.57,229.76 L484.09,230.16 L487.61,230.56 L491.13,230.94 L494.66,231.32 L498.18,231.70 L501.70,232.08 L505.22,232.48 L508.75,232.87 L512.27,233.24 L515.80,233.59 L519.32,233.91 L522.85,234.19 L526.39,234.45 L529.92,234.69 L533.46,234.91 L537.00,235.10 L537.00,254.80 L326.17,254.80Z" fill="#a6a7a9"/>
<path d="M326.17,125.00 L328.20,125.00 L328.58,129.09 L328.97,133.17 L329.37,137.25 L329.78,141.34 L330.20,145.42 L330.63,149.50 L331.08,153.58 L331.54,157.66 L332.06,161.73 L332.69,165.77 L333.49,169.80 L334.39,173.81 L335.38,177.79 L336.52,181.73 L337.78,185.64 L339.14,189.52 L340.65,193.32 L342.34,197.07 L344.20,200.74 L346.21,204.31 L348.41,207.78 L350.86,211.09 L353.59,214.12 L356.66,216.88 L359.90,219.37 L363.32,221.70 L366.86,223.79 L370.50,225.61 L374.29,227.24 L378.15,228.66 L382.06,229.88 L386.03,230.94 L390.03,231.88 L394.05,232.67 L398.10,233.37 L402.14,234.08 L406.18,234.78 L410.23,235.46 L414.28,236.11 L418.33,236.75 L422.39,237.33 L426.46,237.83 L430.54,238.30 L434.62,238.74 L438.70,239.16 L442.79,239.55 L446.87,239.92 L450.96,240.26 L455.05,240.57 L459.15,240.86 L463.24,241.13 L467.34,241.38 L471.43,241.63 L475.53,241.87 L479.62,242.11 L483.72,242.35 L487.82,242.58 L491.91,242.81 L496.01,243.04 L500.11,243.25 L504.20,243.46 L508.30,243.65 L512.40,243.84 L516.50,244.02 L520.60,244.19 L524.70,244.35 L528.80,244.51 L532.90,244.66 L537.00,244.80 L537.00,254.80 L326.17,254.80Z" fill="#8e8f91"/>
<path d="M326.17,165.10 L326.17,165.10 L326.51,168.87 L326.88,172.63 L327.27,176.39 L327.67,180.15 L328.11,183.91 L328.66,187.64 L329.38,191.36 L330.21,195.05 L331.11,198.72 L332.12,202.37 L333.26,205.97 L334.57,209.53 L336.07,213.00 L337.72,216.44 L339.58,219.74 L341.72,222.79 L344.29,225.61 L347.08,228.16 L350.10,230.46 L353.31,232.44 L356.70,234.14 L360.18,235.59 L363.75,236.91 L367.36,238.03 L371.02,238.92 L374.73,239.66 L378.47,240.32 L382.19,240.97 L385.93,241.59 L389.67,242.10 L393.43,242.45 L397.20,242.72 L400.98,242.96 L404.75,243.20 L408.53,243.43 L412.30,243.65 L416.08,243.86 L419.85,244.07 L423.63,244.28 L427.40,244.50 L431.18,244.72 L434.95,244.94 L438.73,245.14 L442.50,245.32 L446.28,245.48 L450.06,245.62 L453.84,245.75 L457.62,245.88 L461.40,246.00 L465.18,246.11 L468.96,246.22 L472.74,246.32 L476.52,246.41 L480.29,246.51 L484.07,246.60 L487.85,246.69 L491.63,246.78 L495.41,246.86 L499.19,246.95 L502.97,247.03 L506.75,247.10 L510.54,247.18 L514.32,247.25 L518.10,247.32 L521.88,247.38 L525.66,247.45 L529.44,247.50 L533.22,247.55 L537.00,247.60 L537.00,254.80 L326.17,254.80Z" fill="#77787a"/>
<path d="M326.17,205.40 L326.17,205.40 L326.95,208.72 L327.54,212.08 L327.96,215.48 L328.54,218.81 L329.65,222.03 L330.94,225.21 L332.22,228.38 L333.83,231.38 L335.81,234.16 L337.97,236.91 L340.39,239.24 L343.28,240.98 L346.46,242.29 L349.69,243.32 L353.02,244.19 L356.38,244.86 L359.74,245.32 L363.13,245.70 L366.54,245.98 L369.94,246.18 L373.34,246.36 L376.75,246.51 L380.16,246.65 L383.57,246.78 L386.98,246.89 L390.39,246.99 L393.80,247.07 L397.21,247.15 L400.62,247.21 L404.02,247.27 L407.43,247.32 L410.84,247.37 L414.25,247.42 L417.66,247.46 L421.07,247.50 L424.48,247.54 L427.89,247.57 L431.30,247.61 L434.71,247.64 L438.12,247.67 L441.53,247.70 L444.94,247.73 L448.35,247.76 L451.76,247.79 L455.17,247.81 L458.58,247.84 L461.99,247.87 L465.40,247.90 L468.81,247.93 L472.22,247.96 L475.63,248.00 L479.04,248.03 L482.45,248.07 L485.86,248.10 L489.27,248.13 L492.67,248.17 L496.08,248.20 L499.49,248.24 L502.90,248.27 L506.31,248.30 L509.72,248.34 L513.13,248.37 L516.54,248.40 L519.95,248.44 L523.36,248.47 L526.77,248.50 L530.18,248.53 L533.59,248.57 L537.00,248.60 L537.00,254.80 L326.17,254.80Z" fill="#636466"/>
<path d="M326.17,231.60 L326.17,231.60 L327.10,234.67 L328.33,237.56 L329.91,240.35 L331.90,242.79 L334.47,244.69 L337.39,245.85 L340.50,246.58 L343.62,247.03 L346.78,247.37 L349.96,247.61 L353.12,247.76 L356.29,247.87 L359.45,247.98 L362.62,248.08 L365.79,248.17 L368.96,248.25 L372.13,248.32 L375.30,248.39 L378.47,248.45 L381.64,248.50 L384.82,248.55 L387.99,248.59 L391.16,248.62 L394.33,248.65 L397.50,248.68 L400.67,248.70 L403.84,248.73 L407.01,248.75 L410.18,248.77 L413.35,248.79 L416.52,248.81 L419.69,248.83 L422.86,248.85 L426.03,248.87 L429.20,248.88 L432.37,248.90 L435.54,248.92 L438.71,248.94 L441.88,248.95 L445.06,248.97 L448.23,248.98 L451.40,249.00 L454.57,249.01 L457.74,249.03 L460.91,249.04 L464.08,249.05 L467.25,249.06 L470.42,249.08 L473.59,249.09 L476.76,249.10 L479.93,249.11 L483.10,249.12 L486.27,249.13 L489.44,249.14 L492.61,249.14 L495.78,249.15 L498.95,249.16 L502.12,249.17 L505.29,249.17 L508.46,249.18 L511.63,249.18 L514.80,249.19 L517.98,249.19 L521.15,249.19 L524.32,249.20 L527.49,249.20 L530.66,249.20 L533.83,249.20 L537.00,249.20 L537.00,254.80 L326.17,254.80Z" fill="#4d4d4f"/>
</g>
<path d="M365.00,130.00 L366.69,132.40 L368.39,134.80 L370.10,137.19 L371.82,139.58 L373.54,141.97 L375.27,144.34 L377.02,146.71 L378.76,149.08 L380.47,151.46 L382.16,153.88 L383.86,156.27 L385.63,158.62 L387.46,160.92 L389.35,163.18 L391.30,165.37 L393.33,167.50 L395.43,169.57 L397.59,171.55 L399.83,173.46 L402.09,175.34 L404.36,177.21 L406.66,179.06 L408.99,180.85 L411.36,182.58 L413.77,184.26 L416.21,185.90 L418.70,187.49 L421.21,189.02 L423.75,190.49 L426.32,191.92 L428.93,193.29 L431.57,194.59 L434.23,195.81 L436.94,196.96 L439.67,198.04 L442.43,199.08 L445.19,200.09 L447.96,201.06 L450.75,202.01 L453.55,202.90 L456.36,203.76 L459.19,204.57 L462.03,205.35 L464.88,206.08 L467.73,206.76 L470.61,207.36 L473.50,207.95 L476.36,208.59 L479.21,209.33 L482.04,210.13 L484.87,210.92 L487.72,211.65 L490.58,212.34 L493.44,212.99 L496.32,213.61 L499.20,214.20 L502.09,214.75 L504.98,215.27 L507.88,215.77 L510.78,216.23 L513.69,216.66 L516.60,217.08 L519.51,217.48 L522.43,217.88 L525.34,218.28 L528.25,218.67 L531.17,219.05 L534.08,219.43 L537.00,219.80" fill="none" stroke="#141414" stroke-width="0.95"/>
<path d="M342.00,128.00 L343.03,131.39 L344.04,134.79 L345.04,138.19 L346.03,141.59 L346.96,145.01 L347.90,148.43 L348.94,151.81 L350.07,155.18 L351.30,158.50 L352.65,161.77 L354.12,164.99 L355.70,168.18 L357.36,171.31 L359.11,174.39 L360.98,177.41 L362.97,180.33 L365.10,183.16 L367.39,185.88 L369.80,188.46 L372.33,190.95 L374.94,193.35 L377.65,195.64 L380.44,197.82 L383.33,199.89 L386.30,201.81 L389.37,203.59 L392.42,205.39 L395.45,207.25 L398.51,209.03 L401.67,210.60 L404.91,212.03 L408.20,213.37 L411.50,214.65 L414.82,215.90 L418.17,217.08 L421.53,218.19 L424.92,219.22 L428.33,220.20 L431.75,221.11 L435.19,221.96 L438.64,222.77 L442.10,223.53 L445.58,224.23 L449.06,224.88 L452.55,225.49 L456.04,226.10 L459.53,226.71 L463.02,227.32 L466.52,227.89 L470.02,228.40 L473.54,228.88 L477.05,229.33 L480.57,229.76 L484.09,230.16 L487.61,230.56 L491.13,230.94 L494.66,231.32 L498.18,231.70 L501.70,232.08 L505.22,232.48 L508.75,232.87 L512.27,233.24 L515.80,233.59 L519.32,233.91 L522.85,234.19 L526.39,234.45 L529.92,234.69 L533.46,234.91 L537.00,235.10" fill="none" stroke="#141414" stroke-width="0.95"/>
<path d="M328.20,125.00 L328.58,129.09 L328.97,133.17 L329.37,137.25 L329.78,141.34 L330.20,145.42 L330.63,149.50 L331.08,153.58 L331.54,157.66 L332.06,161.73 L332.69,165.77 L333.49,169.80 L334.39,173.81 L335.38,177.79 L336.52,181.73 L337.78,185.64 L339.14,189.52 L340.65,193.32 L342.34,197.07 L344.20,200.74 L346.21,204.31 L348.41,207.78 L350.86,211.09 L353.59,214.12 L356.66,216.88 L359.90,219.37 L363.32,221.70 L366.86,223.79 L370.50,225.61 L374.29,227.24 L378.15,228.66 L382.06,229.88 L386.03,230.94 L390.03,231.88 L394.05,232.67 L398.10,233.37 L402.14,234.08 L406.18,234.78 L410.23,235.46 L414.28,236.11 L418.33,236.75 L422.39,237.33 L426.46,237.83 L430.54,238.30 L434.62,238.74 L438.70,239.16 L442.79,239.55 L446.87,239.92 L450.96,240.26 L455.05,240.57 L459.15,240.86 L463.24,241.13 L467.34,241.38 L471.43,241.63 L475.53,241.87 L479.62,242.11 L483.72,242.35 L487.82,242.58 L491.91,242.81 L496.01,243.04 L500.11,243.25 L504.20,243.46 L508.30,243.65 L512.40,243.84 L516.50,244.02 L520.60,244.19 L524.70,244.35 L528.80,244.51 L532.90,244.66 L537.00,244.80" fill="none" stroke="#141414" stroke-width="0.95"/>
<path d="M326.17,165.10 L326.51,168.87 L326.88,172.63 L327.27,176.39 L327.67,180.15 L328.11,183.91 L328.66,187.64 L329.38,191.36 L330.21,195.05 L331.11,198.72 L332.12,202.37 L333.26,205.97 L334.57,209.53 L336.07,213.00 L337.72,216.44 L339.58,219.74 L341.72,222.79 L344.29,225.61 L347.08,228.16 L350.10,230.46 L353.31,232.44 L356.70,234.14 L360.18,235.59 L363.75,236.91 L367.36,238.03 L371.02,238.92 L374.73,239.66 L378.47,240.32 L382.19,240.97 L385.93,241.59 L389.67,242.10 L393.43,242.45 L397.20,242.72 L400.98,242.96 L404.75,243.20 L408.53,243.43 L412.30,243.65 L416.08,243.86 L419.85,244.07 L423.63,244.28 L427.40,244.50 L431.18,244.72 L434.95,244.94 L438.73,245.14 L442.50,245.32 L446.28,245.48 L450.06,245.62 L453.84,245.75 L457.62,245.88 L461.40,246.00 L465.18,246.11 L468.96,246.22 L472.74,246.32 L476.52,246.41 L480.29,246.51 L484.07,246.60 L487.85,246.69 L491.63,246.78 L495.41,246.86 L499.19,246.95 L502.97,247.03 L506.75,247.10 L510.54,247.18 L514.32,247.25 L518.10,247.32 L521.88,247.38 L525.66,247.45 L529.44,247.50 L533.22,247.55 L537.00,247.60" fill="none" stroke="#141414" stroke-width="0.95"/>
<path d="M326.17,205.40 L326.95,208.72 L327.54,212.08 L327.96,215.48 L328.54,218.81 L329.65,222.03 L330.94,225.21 L332.22,228.38 L333.83,231.38 L335.81,234.16 L337.97,236.91 L340.39,239.24 L343.28,240.98 L346.46,242.29 L349.69,243.32 L353.02,244.19 L356.38,244.86 L359.74,245.32 L363.13,245.70 L366.54,245.98 L369.94,246.18 L373.34,246.36 L376.75,246.51 L380.16,246.65 L383.57,246.78 L386.98,246.89 L390.39,246.99 L393.80,247.07 L397.21,247.15 L400.62,247.21 L404.02,247.27 L407.43,247.32 L410.84,247.37 L414.25,247.42 L417.66,247.46 L421.07,247.50 L424.48,247.54 L427.89,247.57 L431.30,247.61 L434.71,247.64 L438.12,247.67 L441.53,247.70 L444.94,247.73 L448.35,247.76 L451.76,247.79 L455.17,247.81 L458.58,247.84 L461.99,247.87 L465.40,247.90 L468.81,247.93 L472.22,247.96 L475.63,248.00 L479.04,248.03 L482.45,248.07 L485.86,248.10 L489.27,248.13 L492.67,248.17 L496.08,248.20 L499.49,248.24 L502.90,248.27 L506.31,248.30 L509.72,248.34 L513.13,248.37 L516.54,248.40 L519.95,248.44 L523.36,248.47 L526.77,248.50 L530.18,248.53 L533.59,248.57 L537.00,248.60" fill="none" stroke="#141414" stroke-width="0.95"/>
<path d="M326.17,231.60 L327.10,234.67 L328.33,237.56 L329.91,240.35 L331.90,242.79 L334.47,244.69 L337.39,245.85 L340.50,246.58 L343.62,247.03 L346.78,247.37 L349.96,247.61 L353.12,247.76 L356.29,247.87 L359.45,247.98 L362.62,248.08 L365.79,248.17 L368.96,248.25 L372.13,248.32 L375.30,248.39 L378.47,248.45 L381.64,248.50 L384.82,248.55 L387.99,248.59 L391.16,248.62 L394.33,248.65 L397.50,248.68 L400.67,248.70 L403.84,248.73 L407.01,248.75 L410.18,248.77 L413.35,248.79 L416.52,248.81 L419.69,248.83 L422.86,248.85 L426.03,248.87 L429.20,248.88 L432.37,248.90 L435.54,248.92 L438.71,248.94 L441.88,248.95 L445.06,248.97 L448.23,248.98 L451.40,249.00 L454.57,249.01 L457.74,249.03 L460.91,249.04 L464.08,249.05 L467.25,249.06 L470.42,249.08 L473.59,249.09 L476.76,249.10 L479.93,249.11 L483.10,249.12 L486.27,249.13 L489.44,249.14 L492.61,249.14 L495.78,249.15 L498.95,249.16 L502.12,249.17 L505.29,249.17 L508.46,249.18 L511.63,249.18 L514.80,249.19 L517.98,249.19 L521.15,249.19 L524.32,249.20 L527.49,249.20 L530.66,249.20 L533.83,249.20 L537.00,249.20" fill="none" stroke="#141414" stroke-width="0.95"/>
<path d="M326.17,241.10 L327.58,243.95 L329.64,246.17 L332.34,247.72 L335.34,248.53 L338.40,248.91 L341.51,249.19 L344.62,249.36 L347.72,249.42 L350.82,249.47 L353.92,249.51 L357.02,249.55 L360.12,249.59 L363.22,249.62 L366.33,249.64 L369.43,249.67 L372.53,249.69 L375.64,249.71 L378.74,249.73 L381.85,249.74 L384.95,249.75 L388.06,249.76 L391.16,249.77 L394.27,249.78 L397.37,249.79 L400.47,249.80 L403.58,249.81 L406.68,249.82 L409.78,249.83 L412.88,249.83 L415.99,249.84 L419.09,249.85 L422.19,249.86 L425.30,249.86 L428.40,249.87 L431.50,249.88 L434.60,249.88 L437.71,249.89 L440.81,249.90 L443.91,249.90 L447.02,249.91 L450.12,249.92 L453.22,249.92 L456.32,249.93 L459.43,249.93 L462.53,249.94 L465.63,249.94 L468.74,249.95 L471.84,249.95 L474.94,249.96 L478.04,249.96 L481.15,249.96 L484.25,249.97 L487.35,249.97 L490.46,249.97 L493.56,249.98 L496.66,249.98 L499.76,249.98 L502.87,249.99 L505.97,249.99 L509.07,249.99 L512.18,249.99 L515.28,249.99 L518.38,250.00 L521.49,250.00 L524.59,250.00 L527.69,250.00 L530.79,250.00 L533.90,250.00 L537.00,250.00" fill="none" stroke="#141414" stroke-width="0.95"/>
</g>
<clipPath id="c6"><path d="M318.40,281.20 L536.50,281.20 L536.50,381.10 L530.91,380.26 L525.32,379.45 L519.72,378.67 L514.13,377.92 L508.54,377.18 L502.95,376.46 L497.35,375.75 L491.76,375.04 L486.17,374.35 L480.58,373.65 L474.98,372.94 L469.39,372.23 L463.80,371.51 L458.21,370.77 L452.62,370.01 L447.02,369.23 L441.43,368.43 L435.84,367.59 L430.25,366.72 L424.65,365.80 L419.06,364.85 L413.47,363.85 L407.88,362.80 L402.28,361.70 L396.69,360.54 L391.10,359.32 L385.51,358.03 L379.92,356.67 L374.32,355.24 L368.73,353.74 L363.14,352.15 L357.55,350.48 L351.95,348.72 L346.36,346.87 L340.77,344.92 L335.18,342.87 L329.58,340.72 L323.99,338.46 L318.40,336.09Z"/></clipPath>
<clipPath id="c6r"><rect x="318.4" y="281.2" width="218.10000000000002" height="109.6"/></clipPath>
<g clip-path="url(#c6r)">
<g clip-path="url(#c6)">
<rect x="318.4" y="281.2" width="218.10000000000002" height="109.0" fill="#dcddde"/>
<path d="M318.40,282.20 L318.40,282.20 L323.99,282.39 L329.58,282.58 L335.18,282.76 L340.77,282.93 L346.36,283.11 L351.95,283.27 L357.55,283.44 L363.14,283.60 L368.73,283.76 L374.32,283.92 L379.92,284.08 L385.51,284.23 L391.10,284.39 L396.69,284.54 L402.28,284.69 L407.88,284.84 L413.47,285.00 L419.06,285.15 L424.65,285.30 L430.25,285.46 L435.84,285.61 L441.43,285.77 L447.02,285.93 L452.62,286.09 L458.21,286.25 L463.80,286.42 L469.39,286.59 L474.98,286.77 L480.58,286.94 L486.17,287.13 L491.76,287.31 L497.35,287.51 L502.95,287.70 L508.54,287.91 L514.13,288.12 L519.72,288.33 L525.32,288.56 L530.91,288.78 L536.50,289.02 L536.50,395.20 L318.40,395.20Z" fill="#bebfc1"/>
<path d="M318.40,283.79 L318.40,283.79 L323.99,284.10 L329.58,284.41 L335.18,284.73 L340.77,285.04 L346.36,285.35 L351.95,285.66 L357.55,285.97 L363.14,286.28 L368.73,286.59 L374.32,286.90 L379.92,287.21 L385.51,287.52 L391.10,287.82 L396.69,288.13 L402.28,288.43 L407.88,288.74 L413.47,289.04 L419.06,289.35 L424.65,289.65 L430.25,289.95 L435.84,290.25 L441.43,290.56 L447.02,290.86 L452.62,291.16 L458.21,291.46 L463.80,291.75 L469.39,292.05 L474.98,292.35 L480.58,292.65 L486.17,292.94 L491.76,293.24 L497.35,293.54 L502.95,293.83 L508.54,294.13 L514.13,294.42 L519.72,294.71 L525.32,295.01 L530.91,295.30 L536.50,295.59 L536.50,395.20 L318.40,395.20Z" fill="#a6a7a9"/>
<path d="M318.40,288.00 L318.40,288.00 L323.99,288.81 L329.58,289.62 L335.18,290.42 L340.77,291.20 L346.36,291.97 L351.95,292.73 L357.55,293.48 L363.14,294.22 L368.73,294.94 L374.32,295.65 L379.92,296.35 L385.51,297.04 L391.10,297.71 L396.69,298.38 L402.28,299.03 L407.88,299.67 L413.47,300.29 L419.06,300.91 L424.65,301.51 L430.25,302.10 L435.84,302.68 L441.43,303.24 L447.02,303.80 L452.62,304.34 L458.21,304.87 L463.80,305.38 L469.39,305.89 L474.98,306.38 L480.58,306.86 L486.17,307.33 L491.76,307.78 L497.35,308.23 L502.95,308.66 L508.54,309.08 L514.13,309.48 L519.72,309.88 L525.32,310.26 L530.91,310.63 L536.50,310.98 L536.50,395.20 L318.40,395.20Z" fill="#8e8f91"/>
<path d="M318.40,293.89 L318.40,293.89 L323.99,295.27 L329.58,296.61 L335.18,297.91 L340.77,299.18 L346.36,300.41 L351.95,301.61 L357.55,302.77 L363.14,303.90 L368.73,304.99 L374.32,306.05 L379.92,307.08 L385.51,308.08 L391.10,309.05 L396.69,309.99 L402.28,310.90 L407.88,311.77 L413.47,312.63 L419.06,313.45 L424.65,314.24 L430.25,315.01 L435.84,315.76 L441.43,316.48 L447.02,317.17 L452.62,317.84 L458.21,318.49 L463.80,319.11 L469.39,319.71 L474.98,320.29 L480.58,320.85 L486.17,321.39 L491.76,321.91 L497.35,322.41 L502.95,322.89 L508.54,323.35 L514.13,323.80 L519.72,324.23 L525.32,324.64 L530.91,325.04 L536.50,325.42 L536.50,395.20 L318.40,395.20Z" fill="#77787a"/>
<path d="M318.40,304.15 L318.40,304.15 L323.99,306.01 L329.58,307.79 L335.18,309.51 L340.77,311.15 L346.36,312.73 L351.95,314.24 L357.55,315.69 L363.14,317.08 L368.73,318.41 L374.32,319.68 L379.92,320.90 L385.51,322.06 L391.10,323.17 L396.69,324.24 L402.28,325.25 L407.88,326.22 L413.47,327.15 L419.06,328.03 L424.65,328.88 L430.25,329.68 L435.84,330.45 L441.43,331.19 L447.02,331.89 L452.62,332.57 L458.21,333.21 L463.80,333.83 L469.39,334.43 L474.98,335.00 L480.58,335.55 L486.17,336.09 L491.76,336.60 L497.35,337.11 L502.95,337.60 L508.54,338.07 L514.13,338.54 L519.72,339.01 L525.32,339.46 L530.91,339.92 L536.50,340.37 L536.50,395.20 L318.40,395.20Z" fill="#636466"/>
<path d="M318.40,322.51 L318.40,322.51 L323.99,324.40 L329.58,326.22 L335.18,327.97 L340.77,329.65 L346.36,331.27 L351.95,332.83 L357.55,334.33 L363.14,335.77 L368.73,337.15 L374.32,338.48 L379.92,339.76 L385.51,340.98 L391.10,342.16 L396.69,343.29 L402.28,344.38 L407.88,345.42 L413.47,346.42 L419.06,347.39 L424.65,348.31 L430.25,349.21 L435.84,350.06 L441.43,350.89 L447.02,351.69 L452.62,352.47 L458.21,353.21 L463.80,353.94 L469.39,354.64 L474.98,355.32 L480.58,355.99 L486.17,356.64 L491.76,357.28 L497.35,357.91 L502.95,358.53 L508.54,359.14 L514.13,359.74 L519.72,360.34 L525.32,360.94 L530.91,361.54 L536.50,362.15 L536.50,395.20 L318.40,395.20Z" fill="#4d4d4f"/>
</g>
<path d="M318.40,282.20 L323.99,282.39 L329.58,282.58 L335.18,282.76 L340.77,282.93 L346.36,283.11 L351.95,283.27 L357.55,283.44 L363.14,283.60 L368.73,283.76 L374.32,283.92 L379.92,284.08 L385.51,284.23 L391.10,284.39 L396.69,284.54 L402.28,284.69 L407.88,284.84 L413.47,285.00 L419.06,285.15 L424.65,285.30 L430.25,285.46 L435.84,285.61 L441.43,285.77 L447.02,285.93 L452.62,286.09 L458.21,286.25 L463.80,286.42 L469.39,286.59 L474.98,286.77 L480.58,286.94 L486.17,287.13 L491.76,287.31 L497.35,287.51 L502.95,287.70 L508.54,287.91 L514.13,288.12 L519.72,288.33 L525.32,288.56 L530.91,288.78 L536.50,289.02" fill="none" stroke="#141414" stroke-width="0.95"/>
<path d="M318.40,283.79 L323.99,284.10 L329.58,284.41 L335.18,284.73 L340.77,285.04 L346.36,285.35 L351.95,285.66 L357.55,285.97 L363.14,286.28 L368.73,286.59 L374.32,286.90 L379.92,287.21 L385.51,287.52 L391.10,287.82 L396.69,288.13 L402.28,288.43 L407.88,288.74 L413.47,289.04 L419.06,289.35 L424.65,289.65 L430.25,289.95 L435.84,290.25 L441.43,290.56 L447.02,290.86 L452.62,291.16 L458.21,291.46 L463.80,291.75 L469.39,292.05 L474.98,292.35 L480.58,292.65 L486.17,292.94 L491.76,293.24 L497.35,293.54 L502.95,293.83 L508.54,294.13 L514.13,294.42 L519.72,294.71 L525.32,295.01 L530.91,295.30 L536.50,295.59" fill="none" stroke="#141414" stroke-width="0.95"/>
<path d="M318.40,288.00 L323.99,288.81 L329.58,289.62 L335.18,290.42 L340.77,291.20 L346.36,291.97 L351.95,292.73 L357.55,293.48 L363.14,294.22 L368.73,294.94 L374.32,295.65 L379.92,296.35 L385.51,297.04 L391.10,297.71 L396.69,298.38 L402.28,299.03 L407.88,299.67 L413.47,300.29 L419.06,300.91 L424.65,301.51 L430.25,302.10 L435.84,302.68 L441.43,303.24 L447.02,303.80 L452.62,304.34 L458.21,304.87 L463.80,305.38 L469.39,305.89 L474.98,306.38 L480.58,306.86 L486.17,307.33 L491.76,307.78 L497.35,308.23 L502.95,308.66 L508.54,309.08 L514.13,309.48 L519.72,309.88 L525.32,310.26 L530.91,310.63 L536.50,310.98" fill="none" stroke="#141414" stroke-width="0.95"/>
<path d="M318.40,293.89 L323.99,295.27 L329.58,296.61 L335.18,297.91 L340.77,299.18 L346.36,300.41 L351.95,301.61 L357.55,302.77 L363.14,303.90 L368.73,304.99 L374.32,306.05 L379.92,307.08 L385.51,308.08 L391.10,309.05 L396.69,309.99 L402.28,310.90 L407.88,311.77 L413.47,312.63 L419.06,313.45 L424.65,314.24 L430.25,315.01 L435.84,315.76 L441.43,316.48 L447.02,317.17 L452.62,317.84 L458.21,318.49 L463.80,319.11 L469.39,319.71 L474.98,320.29 L480.58,320.85 L486.17,321.39 L491.76,321.91 L497.35,322.41 L502.95,322.89 L508.54,323.35 L514.13,323.80 L519.72,324.23 L525.32,324.64 L530.91,325.04 L536.50,325.42" fill="none" stroke="#141414" stroke-width="0.95"/>
<path d="M318.40,304.15 L323.99,306.01 L329.58,307.79 L335.18,309.51 L340.77,311.15 L346.36,312.73 L351.95,314.24 L357.55,315.69 L363.14,317.08 L368.73,318.41 L374.32,319.68 L379.92,320.90 L385.51,322.06 L391.10,323.17 L396.69,324.24 L402.28,325.25 L407.88,326.22 L413.47,327.15 L419.06,328.03 L424.65,328.88 L430.25,329.68 L435.84,330.45 L441.43,331.19 L447.02,331.89 L452.62,332.57 L458.21,333.21 L463.80,333.83 L469.39,334.43 L474.98,335.00 L480.58,335.55 L486.17,336.09 L491.76,336.60 L497.35,337.11 L502.95,337.60 L508.54,338.07 L514.13,338.54 L519.72,339.01 L525.32,339.46 L530.91,339.92 L536.50,340.37" fill="none" stroke="#141414" stroke-width="0.95"/>
<path d="M318.40,322.51 L323.99,324.40 L329.58,326.22 L335.18,327.97 L340.77,329.65 L346.36,331.27 L351.95,332.83 L357.55,334.33 L363.14,335.77 L368.73,337.15 L374.32,338.48 L379.92,339.76 L385.51,340.98 L391.10,342.16 L396.69,343.29 L402.28,344.38 L407.88,345.42 L413.47,346.42 L419.06,347.39 L424.65,348.31 L430.25,349.21 L435.84,350.06 L441.43,350.89 L447.02,351.69 L452.62,352.47 L458.21,353.21 L463.80,353.94 L469.39,354.64 L474.98,355.32 L480.58,355.99 L486.17,356.64 L491.76,357.28 L497.35,357.91 L502.95,358.53 L508.54,359.14 L514.13,359.74 L519.72,360.34 L525.32,360.94 L530.91,361.54 L536.50,362.15" fill="none" stroke="#141414" stroke-width="0.95"/>
<path d="M318.40,336.09 L323.99,338.46 L329.58,340.72 L335.18,342.87 L340.77,344.92 L346.36,346.87 L351.95,348.72 L357.55,350.48 L363.14,352.15 L368.73,353.74 L374.32,355.24 L379.92,356.67 L385.51,358.03 L391.10,359.32 L396.69,360.54 L402.28,361.70 L407.88,362.80 L413.47,363.85 L419.06,364.85 L424.65,365.80 L430.25,366.72 L435.84,367.59 L441.43,368.43 L447.02,369.23 L452.62,370.01 L458.21,370.77 L463.80,371.51 L469.39,372.23 L474.98,372.94 L480.58,373.65 L486.17,374.35 L491.76,375.04 L497.35,375.75 L502.95,376.46 L508.54,377.18 L514.13,377.92 L519.72,378.67 L525.32,379.45 L530.91,380.26 L536.50,381.10" fill="none" stroke="#141414" stroke-width="0.95"/>
</g>
<line x1="64.5" y1="5.9" x2="64.5" y2="115.9" stroke="#606060" stroke-width="1.0"/>
<line x1="64.6" y1="115.5" x2="283.1" y2="115.5" stroke="#606060" stroke-width="1.0"/>
<line x1="64.6" y1="6.5" x2="69.8" y2="6.5" stroke="#444444" stroke-width="1.0"/>
<line x1="64.6" y1="42.5" x2="69.8" y2="42.5" stroke="#444444" stroke-width="1.0"/>
<line x1="64.6" y1="79.5" x2="69.8" y2="79.5" stroke="#444444" stroke-width="1.0"/>
<line x1="64.6" y1="115.5" x2="69.8" y2="115.5" stroke="#444444" stroke-width="1.0"/>
<line x1="137.5" y1="115.4" x2="137.5" y2="120.2" stroke="#444444" stroke-width="1.0"/>
<line x1="209.5" y1="115.4" x2="209.5" y2="120.2" stroke="#444444" stroke-width="1.0"/>
<line x1="282.5" y1="115.4" x2="282.5" y2="120.2" stroke="#444444" stroke-width="1.0"/>
<text x="60.9" y="11.7" font-size="13.5" text-anchor="end"  style="">0</text>
<text x="60.9" y="47.96666666666667" font-size="13.5" text-anchor="end"  style="">−200</text>
<text x="60.9" y="84.23333333333333" font-size="13.5" text-anchor="end"  style="">−400</text>
<text x="60.9" y="120.5" font-size="13.5" text-anchor="end"  style="">−600</text>
<text x="64.6" y="132.8" font-size="13.5" text-anchor="middle"  style="">0</text>
<text x="137.26666666666665" y="132.8" font-size="13.5" text-anchor="middle"  style="">1000</text>
<text x="209.93333333333334" y="132.8" font-size="13.5" text-anchor="middle"  style="">2000</text>
<text x="282.6" y="132.8" font-size="13.5" text-anchor="middle"  style="">3000</text>
<line x1="64.5" y1="141.0" x2="64.5" y2="249.7" stroke="#606060" stroke-width="1.0"/>
<line x1="64.6" y1="249.5" x2="283.1" y2="249.5" stroke="#606060" stroke-width="1.0"/>
<line x1="64.6" y1="141.5" x2="69.8" y2="141.5" stroke="#444444" stroke-width="1.0"/>
<line x1="64.6" y1="163.5" x2="69.8" y2="163.5" stroke="#444444" stroke-width="1.0"/>
<line x1="64.6" y1="184.5" x2="69.8" y2="184.5" stroke="#444444" stroke-width="1.0"/>
<line x1="64.6" y1="206.5" x2="69.8" y2="206.5" stroke="#444444" stroke-width="1.0"/>
<line x1="64.6" y1="227.5" x2="69.8" y2="227.5" stroke="#444444" stroke-width="1.0"/>
<line x1="64.6" y1="249.5" x2="69.8" y2="249.5" stroke="#444444" stroke-width="1.0"/>
<line x1="137.5" y1="249.2" x2="137.5" y2="254.0" stroke="#444444" stroke-width="1.0"/>
<line x1="209.5" y1="249.2" x2="209.5" y2="254.0" stroke="#444444" stroke-width="1.0"/>
<line x1="282.5" y1="249.2" x2="282.5" y2="254.0" stroke="#444444" stroke-width="1.0"/>
<text x="60.9" y="146.5" font-size="13.5" text-anchor="end"  style="">0</text>
<text x="60.9" y="168.04" font-size="13.5" text-anchor="end"  style="">−40</text>
<text x="60.9" y="189.57999999999998" font-size="13.5" text-anchor="end"  style="">−80</text>
<text x="60.9" y="211.12" font-size="13.5" text-anchor="end"  style="">−120</text>
<text x="60.9" y="232.66" font-size="13.5" text-anchor="end"  style="">−160</text>
<text x="60.9" y="254.2" font-size="13.5" text-anchor="end"  style="">−200</text>
<text x="64.6" y="266.4" font-size="13.5" text-anchor="middle"  style="">0</text>
<text x="137.26666666666665" y="266.4" font-size="13.5" text-anchor="middle"  style="">1000</text>
<text x="209.93333333333334" y="266.4" font-size="13.5" text-anchor="middle"  style="">2000</text>
<text x="282.6" y="266.4" font-size="13.5" text-anchor="middle"  style="">3000</text>
<line x1="64.5" y1="280.7" x2="64.5" y2="390.7" stroke="#606060" stroke-width="1.0"/>
<line x1="64.6" y1="390.5" x2="283.1" y2="390.5" stroke="#606060" stroke-width="1.0"/>
<line x1="64.6" y1="281.5" x2="69.8" y2="281.5" stroke="#444444" stroke-width="1.0"/>
<line x1="64.6" y1="302.5" x2="69.8" y2="302.5" stroke="#444444" stroke-width="1.0"/>
<line x1="64.6" y1="324.5" x2="69.8" y2="324.5" stroke="#444444" stroke-width="1.0"/>
<line x1="64.6" y1="346.5" x2="69.8" y2="346.5" stroke="#444444" stroke-width="1.0"/>
<line x1="64.6" y1="368.5" x2="69.8" y2="368.5" stroke="#444444" stroke-width="1.0"/>
<line x1="64.6" y1="390.5" x2="69.8" y2="390.5" stroke="#444444" stroke-width="1.0"/>
<line x1="108.5" y1="390.2" x2="108.5" y2="395.0" stroke="#444444" stroke-width="1.0"/>
<line x1="151.5" y1="390.2" x2="151.5" y2="395.0" stroke="#444444" stroke-width="1.0"/>
<line x1="195.5" y1="390.2" x2="195.5" y2="395.0" stroke="#444444" stroke-width="1.0"/>
<line x1="239.5" y1="390.2" x2="239.5" y2="395.0" stroke="#444444" stroke-width="1.0"/>
<line x1="282.5" y1="390.2" x2="282.5" y2="395.0" stroke="#444444" stroke-width="1.0"/>
<text x="60.9" y="286.2" font-size="13.5" text-anchor="end"  style="">0</text>
<text x="60.9" y="308.0" font-size="13.5" text-anchor="end"  style="">−5000</text>
<text x="60.9" y="329.8" font-size="13.5" text-anchor="end"  style="">−10000</text>
<text x="60.9" y="351.6" font-size="13.5" text-anchor="end"  style="">−15000</text>
<text x="60.9" y="373.4" font-size="13.5" text-anchor="end"  style="">−20000</text>
<text x="60.9" y="395.2" font-size="13.5" text-anchor="end"  style="">−25000</text>
<text x="68.8" y="407.2" font-size="13.5" text-anchor="middle"  style="">500</text>
<text x="108.2" y="407.2" font-size="13.5" text-anchor="middle"  style="">1000</text>
<text x="151.8" y="407.2" font-size="13.5" text-anchor="middle"  style="">1500</text>
<text x="195.4" y="407.2" font-size="13.5" text-anchor="middle"  style="">2000</text>
<text x="239.00000000000003" y="407.2" font-size="13.5" text-anchor="middle"  style="">2500</text>
<text x="282.6" y="407.2" font-size="13.5" text-anchor="middle"  style="">3000</text>
<line x1="536.5" y1="5.9" x2="536.5" y2="116.2" stroke="#606060" stroke-width="1.0"/>
<line x1="318.4" y1="115.5" x2="537.0" y2="115.5" stroke="#606060" stroke-width="1.0"/>
<line x1="537.0" y1="6.5" x2="542.2" y2="6.5" stroke="#444444" stroke-width="1.0"/>
<line x1="537.0" y1="40.5" x2="542.2" y2="40.5" stroke="#444444" stroke-width="1.0"/>
<line x1="537.0" y1="74.5" x2="542.2" y2="74.5" stroke="#444444" stroke-width="1.0"/>
<line x1="537.0" y1="108.5" x2="542.2" y2="108.5" stroke="#444444" stroke-width="1.0"/>
<line x1="318.5" y1="115.7" x2="318.5" y2="120.5" stroke="#444444" stroke-width="1.0"/>
<line x1="391.5" y1="115.7" x2="391.5" y2="120.5" stroke="#444444" stroke-width="1.0"/>
<line x1="464.5" y1="115.7" x2="464.5" y2="120.5" stroke="#444444" stroke-width="1.0"/>
<line x1="536.5" y1="115.7" x2="536.5" y2="120.5" stroke="#444444" stroke-width="1.0"/>
<text x="543.6" y="11.409999999999897" font-size="13.5" text-anchor="start"  style="">0.54</text>
<text x="543.6" y="45.43999999999994" font-size="13.5" text-anchor="start"  style="">0.53</text>
<text x="543.6" y="79.46999999999997" font-size="13.5" text-anchor="start"  style="">0.52</text>
<text x="543.6" y="113.5" font-size="13.5" text-anchor="start"  style="">0.51</text>
<text x="318.9" y="132.8" font-size="13.5" text-anchor="middle"  style="">0</text>
<text x="391.59999999999997" y="132.8" font-size="13.5" text-anchor="middle"  style="">1000</text>
<text x="464.29999999999995" y="132.8" font-size="13.5" text-anchor="middle"  style="">2000</text>
<text x="537.0" y="132.8" font-size="13.5" text-anchor="middle"  style="">3000</text>
<line x1="536.5" y1="141.0" x2="536.5" y2="250.1" stroke="#606060" stroke-width="1.0"/>
<line x1="318.4" y1="249.5" x2="537.0" y2="249.5" stroke="#606060" stroke-width="1.0"/>
<line x1="537.0" y1="141.5" x2="542.2" y2="141.5" stroke="#444444" stroke-width="1.0"/>
<line x1="537.0" y1="163.5" x2="542.2" y2="163.5" stroke="#444444" stroke-width="1.0"/>
<line x1="537.0" y1="184.5" x2="542.2" y2="184.5" stroke="#444444" stroke-width="1.0"/>
<line x1="537.0" y1="206.5" x2="542.2" y2="206.5" stroke="#444444" stroke-width="1.0"/>
<line x1="537.0" y1="227.5" x2="542.2" y2="227.5" stroke="#444444" stroke-width="1.0"/>
<line x1="537.0" y1="249.5" x2="542.2" y2="249.5" stroke="#444444" stroke-width="1.0"/>
<line x1="318.5" y1="249.6" x2="318.5" y2="254.4" stroke="#444444" stroke-width="1.0"/>
<line x1="391.5" y1="249.6" x2="391.5" y2="254.4" stroke="#444444" stroke-width="1.0"/>
<line x1="464.5" y1="249.6" x2="464.5" y2="254.4" stroke="#444444" stroke-width="1.0"/>
<line x1="536.5" y1="249.6" x2="536.5" y2="254.4" stroke="#444444" stroke-width="1.0"/>
<text x="543.6" y="146.5" font-size="13.5" text-anchor="start"  style="">0.820</text>
<text x="543.6" y="168.04000000000002" font-size="13.5" text-anchor="start"  style="">0.815</text>
<text x="543.6" y="189.57999999999956" font-size="13.5" text-anchor="start"  style="">0.810</text>
<text x="543.6" y="211.11999999999955" font-size="13.5" text-anchor="start"  style="">0.805</text>
<text x="543.6" y="232.65999999999957" font-size="13.5" text-anchor="start"  style="">0.800</text>
<text x="543.6" y="254.1999999999996" font-size="13.5" text-anchor="start"  style="">0.795</text>
<text x="318.9" y="266.4" font-size="13.5" text-anchor="middle"  style="">0</text>
<text x="391.59999999999997" y="266.4" font-size="13.5" text-anchor="middle"  style="">1000</text>
<text x="464.29999999999995" y="266.4" font-size="13.5" text-anchor="middle"  style="">2000</text>
<text x="537.0" y="266.4" font-size="13.5" text-anchor="middle"  style="">3000</text>
<line x1="536.5" y1="280.7" x2="536.5" y2="390.7" stroke="#606060" stroke-width="1.0"/>
<line x1="318.4" y1="390.5" x2="537.0" y2="390.5" stroke="#606060" stroke-width="1.0"/>
<line x1="537.0" y1="281.5" x2="542.2" y2="281.5" stroke="#444444" stroke-width="1.0"/>
<line x1="537.0" y1="317.5" x2="542.2" y2="317.5" stroke="#444444" stroke-width="1.0"/>
<line x1="537.0" y1="353.5" x2="542.2" y2="353.5" stroke="#444444" stroke-width="1.0"/>
<line x1="537.0" y1="389.5" x2="542.2" y2="389.5" stroke="#444444" stroke-width="1.0"/>
<line x1="318.5" y1="390.2" x2="318.5" y2="395.0" stroke="#444444" stroke-width="1.0"/>
<line x1="362.5" y1="390.2" x2="362.5" y2="395.0" stroke="#444444" stroke-width="1.0"/>
<line x1="406.5" y1="390.2" x2="406.5" y2="395.0" stroke="#444444" stroke-width="1.0"/>
<line x1="449.5" y1="390.2" x2="449.5" y2="395.0" stroke="#444444" stroke-width="1.0"/>
<line x1="493.5" y1="390.2" x2="493.5" y2="395.0" stroke="#444444" stroke-width="1.0"/>
<line x1="536.5" y1="390.2" x2="536.5" y2="395.0" stroke="#444444" stroke-width="1.0"/>
<text x="543.6" y="286.5" font-size="13.5" text-anchor="start"  style="">1.0</text>
<text x="543.6" y="322.5" font-size="13.5" text-anchor="start"  style="">0.9</text>
<text x="543.6" y="358.5" font-size="13.5" text-anchor="start"  style="">0.8</text>
<text x="543.6" y="394.5" font-size="13.5" text-anchor="start"  style="">0.7</text>
<text x="318.9" y="407.2" font-size="13.5" text-anchor="middle"  style="">500</text>
<text x="362.52" y="407.2" font-size="13.5" text-anchor="middle"  style="">1000</text>
<text x="406.14" y="407.2" font-size="13.5" text-anchor="middle"  style="">1500</text>
<text x="449.76" y="407.2" font-size="13.5" text-anchor="middle"  style="">2000</text>
<text x="493.38" y="407.2" font-size="13.5" text-anchor="middle"  style="">2500</text>
<text x="537.0" y="407.2" font-size="13.5" text-anchor="middle"  style="">3000</text>
<text transform="translate(26.2,62.6) rotate(-90)" font-size="15" text-anchor="middle" font-style="italic">Z<tspan dy="3.2" font-size="10.5">d</tspan></text>
<text transform="translate(26.2,196.7) rotate(-90)" font-size="15" text-anchor="middle" font-style="italic">Z<tspan dy="3.2" font-size="10.5">d</tspan></text>
<text transform="translate(14.3,337.6) rotate(-90)" font-size="15" text-anchor="middle" font-style="italic">Z<tspan dy="3.2" font-size="10.5">d</tspan></text>
<text transform="translate(580.0,69.4) rotate(-90)" font-size="15" text-anchor="middle" font-style="italic">n<tspan dy="3.2" font-size="10.5">e</tspan><tspan dy="-3.2">/n</tspan><tspan dy="3.2" font-size="10.5">i</tspan></text>
<text transform="translate(587.5,191.8) rotate(-90)" font-size="15" text-anchor="middle" font-style="italic">n<tspan dy="3.2" font-size="10.5">e</tspan><tspan dy="-3.2">/n</tspan><tspan dy="3.2" font-size="10.5">i</tspan></text>
<text transform="translate(578.2,329.5) rotate(-90)" font-size="15" text-anchor="middle" font-style="italic">n<tspan dy="3.2" font-size="10.5">e</tspan><tspan dy="-3.2">/n</tspan><tspan dy="3.2" font-size="10.5">i</tspan></text>
<text x="179" y="419" font-size="14.5" text-anchor="middle"  style=""><tspan font-style="italic">a</tspan>, nm</text>
<text x="428.0" y="419" font-size="14.5" text-anchor="middle"  style=""><tspan font-style="italic">a</tspan>, nm</text>
<text x="267.5" y="44.8" font-size="13.5" text-anchor="middle"  style="">(a)</text>
<text x="524" y="24.4" font-size="13.5" text-anchor="middle"  style="">(b)</text>
<text x="267.5" y="182.5" font-size="13.5" text-anchor="middle"  style="">(c)</text>
<text x="524" y="158.6" font-size="13.5" text-anchor="middle"  style="">(d)</text>
<text x="267.5" y="329" font-size="13.5" text-anchor="middle"  style="">(e)</text>
<text x="522.3" y="307" font-size="13.5" text-anchor="middle"  style="">(f)</text>
<text x="175" y="84.4" font-size="11.2" text-anchor="start"  style=""><tspan font-style="italic">n</tspan><tspan dy="2.4" font-size="7.5"><tspan font-style="italic">i</tspan>0</tspan><tspan dy="-2.4"> = 0.11 cm</tspan><tspan dy="-4" font-size="7.5">−3</tspan></text>
<text x="445.4" y="41.6" font-size="11.2" text-anchor="start"  style=""><tspan font-style="italic">n</tspan><tspan dy="2.4" font-size="7.5"><tspan font-style="italic">i</tspan>0</tspan><tspan dy="-2.4"> = 0.10 cm</tspan><tspan dy="-4" font-size="7.5">−3</tspan></text>
<text x="177" y="225" font-size="11.2" text-anchor="start"  style=""><tspan font-style="italic">n</tspan><tspan dy="2.4" font-size="7.5"><tspan font-style="italic">i</tspan>0</tspan><tspan dy="-2.4"> = 0.10 cm</tspan><tspan dy="-4" font-size="7.5">−3</tspan></text>
<text x="445.4" y="175.9" font-size="11.2" text-anchor="start"  style=""><tspan font-style="italic">n</tspan><tspan dy="2.4" font-size="7.5"><tspan font-style="italic">i</tspan>0</tspan><tspan dy="-2.4"> = 0.10 cm</tspan><tspan dy="-4" font-size="7.5">−3</tspan></text>
<text x="89.6" y="371.6" font-size="11.2" text-anchor="start"  style=""><tspan font-style="italic">n</tspan><tspan dy="2.4" font-size="7.5"><tspan font-style="italic">i</tspan>0</tspan><tspan dy="-2.4"> = 100 cm</tspan><tspan dy="-4" font-size="7.5">−3</tspan></text>
<text x="331.6" y="376" font-size="11.2" text-anchor="start"  style=""><tspan font-style="italic">n</tspan><tspan dy="2.4" font-size="7.5"><tspan font-style="italic">i</tspan>0</tspan><tspan dy="-2.4"> = 100 cm</tspan><tspan dy="-4" font-size="7.5">−3</tspan></text>
<rect x="597.6" y="34.90" width="10.10" height="29.6" fill="#4d4d4f"/>
<rect x="597.6" y="64.40" width="10.10" height="29.6" fill="#636466"/>
<rect x="597.6" y="93.90" width="10.10" height="29.6" fill="#77787a"/>
<rect x="597.6" y="123.40" width="10.10" height="29.6" fill="#8e8f91"/>
<rect x="597.6" y="152.90" width="10.10" height="29.6" fill="#a6a7a9"/>
<rect x="597.6" y="182.40" width="10.10" height="29.6" fill="#bebfc1"/>
<rect x="597.6" y="211.90" width="10.10" height="29.6" fill="#dcddde"/>
<rect x="597.6" y="34.90" width="10.10" height="206.50" fill="none" stroke="#3a3a3a" stroke-width="1"/>
<line x1="597.6" y1="64.4" x2="607.7" y2="64.4" stroke="#2a2a2a" stroke-width="1"/>
<line x1="597.6" y1="93.9" x2="607.7" y2="93.9" stroke="#2a2a2a" stroke-width="1"/>
<line x1="597.6" y1="123.4" x2="607.7" y2="123.4" stroke="#2a2a2a" stroke-width="1"/>
<line x1="597.6" y1="152.9" x2="607.7" y2="152.9" stroke="#2a2a2a" stroke-width="1"/>
<line x1="597.6" y1="182.4" x2="607.7" y2="182.4" stroke="#2a2a2a" stroke-width="1"/>
<line x1="597.6" y1="211.9" x2="607.7" y2="211.9" stroke="#2a2a2a" stroke-width="1"/>
<text x="612.4" y="37.9" font-size="10.9" text-anchor="start"  style="">100 × 10<tspan dy="-3.6" font-size="7.7">−4</tspan><tspan dy="3.6"> cm</tspan><tspan dy="-3.6" font-size="7.7">−3</tspan></text>
<text x="612.4" y="67.65" font-size="10.9" text-anchor="start"  style="">50 × 10<tspan dy="-3.6" font-size="7.7">−4</tspan><tspan dy="3.6"> cm</tspan><tspan dy="-3.6" font-size="7.7">−3</tspan></text>
<text x="612.4" y="97.4" font-size="10.9" text-anchor="start"  style="">20 × 10<tspan dy="-3.6" font-size="7.7">−4</tspan><tspan dy="3.6"> cm</tspan><tspan dy="-3.6" font-size="7.7">−3</tspan></text>
<text x="612.4" y="127.15" font-size="10.9" text-anchor="start"  style="">10 × 10<tspan dy="-3.6" font-size="7.7">−4</tspan><tspan dy="3.6"> cm</tspan><tspan dy="-3.6" font-size="7.7">−3</tspan></text>
<text x="612.4" y="156.9" font-size="10.9" text-anchor="start"  style="">5 × 10<tspan dy="-3.6" font-size="7.7">−4</tspan><tspan dy="3.6"> cm</tspan><tspan dy="-3.6" font-size="7.7">−3</tspan></text>
<text x="612.4" y="186.65" font-size="10.9" text-anchor="start"  style="">2 × 10<tspan dy="-3.6" font-size="7.7">−4</tspan><tspan dy="3.6"> cm</tspan><tspan dy="-3.6" font-size="7.7">−3</tspan></text>
<text x="612.4" y="216.4" font-size="10.9" text-anchor="start"  style="">1 × 10<tspan dy="-3.6" font-size="7.7">−4</tspan><tspan dy="3.6"> cm</tspan><tspan dy="-3.6" font-size="7.7">−3</tspan></text>
<text x="604.3" y="24.6" font-size="13.6" font-style="italic">n<tspan dy="3.2" font-size="10">d</tspan></text>
</svg>
</body></html>
